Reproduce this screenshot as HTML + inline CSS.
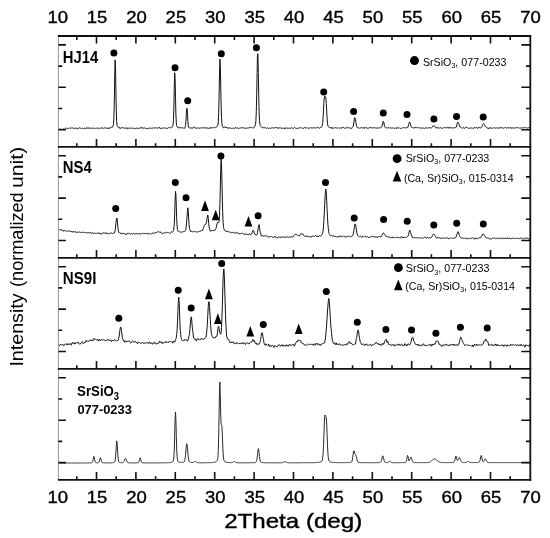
<!DOCTYPE html>
<html><head><meta charset="utf-8"><title>XRD</title>
<style>html,body{margin:0;padding:0;background:#fff}svg{display:block}</style></head>
<body>
<svg width="550" height="538" viewBox="0 0 550 538">
<rect width="550" height="538" fill="#fff"/>
<path d="M58.7 129.6 L59.1 129.5 L59.5 129.0 L59.9 128.9 L60.3 129.2 L60.7 128.9 L61.1 129.1 L61.5 129.5 L61.9 129.1 L62.3 129.2 L62.7 129.5 L63.1 129.1 L63.5 128.7 L63.9 129.0 L64.3 129.4 L64.7 129.1 L65.1 128.5 L65.5 128.3 L65.9 128.1 L66.3 128.3 L66.7 128.1 L67.1 128.2 L67.5 128.7 L67.9 128.5 L68.3 128.5 L68.7 128.2 L69.1 128.0 L69.5 128.0 L69.9 127.9 L70.3 128.2 L70.7 128.2 L71.1 127.9 L71.5 127.9 L71.9 127.8 L72.3 127.8 L72.7 128.0 L73.1 127.9 L73.5 128.0 L73.9 128.6 L74.3 128.7 L74.7 128.3 L75.1 127.9 L75.5 127.8 L75.9 128.4 L76.3 128.6 L76.7 128.1 L77.1 128.1 L77.5 128.7 L77.9 128.7 L78.3 128.3 L78.7 128.4 L79.1 128.2 L79.5 127.8 L79.9 127.8 L80.3 128.1 L80.7 128.3 L81.1 128.5 L81.5 128.6 L81.9 128.5 L82.3 128.4 L82.7 128.2 L83.1 128.3 L83.5 128.6 L83.9 128.2 L84.3 128.2 L84.7 128.3 L85.1 128.4 L85.5 128.8 L85.9 129.0 L86.3 128.3 L86.7 127.5 L87.1 127.7 L87.5 128.1 L87.9 128.4 L88.3 128.4 L88.7 127.8 L89.1 127.6 L89.5 128.3 L89.9 128.4 L90.3 128.4 L90.7 128.3 L91.1 128.1 L91.5 128.2 L91.9 128.3 L92.3 128.3 L92.7 128.2 L93.1 128.0 L93.5 128.1 L93.9 128.3 L94.3 128.4 L94.7 128.7 L95.1 128.5 L95.5 128.1 L95.9 127.9 L96.3 128.1 L96.7 128.3 L97.1 128.1 L97.5 128.1 L97.9 128.0 L98.3 128.2 L98.7 128.2 L99.1 128.3 L99.5 128.5 L99.9 128.4 L100.3 128.0 L100.7 127.9 L101.1 128.3 L101.5 128.1 L101.9 127.8 L102.3 128.1 L102.7 127.8 L103.1 127.9 L103.5 128.4 L103.9 128.1 L104.3 128.0 L104.7 127.9 L105.1 127.8 L105.5 127.7 L105.9 127.9 L106.3 128.4 L106.7 128.1 L107.1 127.8 L107.5 128.1 L107.9 128.7 L108.3 128.0 L108.7 127.8 L109.1 128.6 L109.5 128.3 L109.9 127.6 L110.3 127.7 L110.7 127.9 L111.1 127.4 L111.5 127.1 L111.9 127.2 L112.3 127.4 L112.7 126.8 L113.1 126.0 L113.5 123.7 L113.9 117.3 L114.3 102.1 L114.7 78.0 L115.1 59.9 L115.5 67.0 L115.9 90.9 L116.3 111.3 L116.7 121.6 L117.1 125.3 L117.5 126.6 L117.9 127.1 L118.3 127.4 L118.7 127.5 L119.1 126.9 L119.5 127.3 L119.9 128.5 L120.3 128.4 L120.7 127.9 L121.1 127.8 L121.5 127.9 L121.9 127.9 L122.3 127.7 L122.7 127.6 L123.1 127.7 L123.5 127.8 L123.9 128.0 L124.3 128.1 L124.7 128.1 L125.1 128.2 L125.5 128.3 L125.9 128.6 L126.3 128.1 L126.7 127.5 L127.1 128.1 L127.5 128.9 L127.9 128.6 L128.3 128.0 L128.7 128.1 L129.1 128.4 L129.5 128.3 L129.9 128.2 L130.3 128.2 L130.7 127.8 L131.1 127.9 L131.5 128.3 L131.9 128.5 L132.3 128.4 L132.7 128.0 L133.1 128.1 L133.5 128.3 L133.9 128.2 L134.3 128.2 L134.7 128.4 L135.1 128.5 L135.5 128.6 L135.9 128.8 L136.3 128.5 L136.7 127.9 L137.1 127.9 L137.5 128.4 L137.9 128.4 L138.3 128.5 L138.7 128.3 L139.1 128.2 L139.5 128.2 L139.9 128.4 L140.3 128.3 L140.7 127.4 L141.1 127.4 L141.5 127.6 L141.9 127.7 L142.3 128.3 L142.7 128.5 L143.1 127.7 L143.5 128.1 L143.9 128.2 L144.3 127.7 L144.7 128.0 L145.1 128.5 L145.5 128.2 L145.9 128.3 L146.3 128.5 L146.7 128.5 L147.1 128.6 L147.5 128.6 L147.9 128.5 L148.3 127.9 L148.7 128.4 L149.1 128.5 L149.5 128.0 L149.9 127.9 L150.3 127.9 L150.7 128.1 L151.1 128.2 L151.5 128.3 L151.9 128.7 L152.3 128.5 L152.7 127.8 L153.1 127.6 L153.5 127.7 L153.9 127.6 L154.3 127.9 L154.7 128.2 L155.1 127.9 L155.5 128.0 L155.9 127.8 L156.3 127.6 L156.7 128.1 L157.1 128.4 L157.5 128.1 L157.9 128.4 L158.3 128.2 L158.7 127.7 L159.1 128.0 L159.5 127.4 L159.9 127.9 L160.3 128.6 L160.7 127.9 L161.1 128.3 L161.5 128.7 L161.9 128.3 L162.3 128.0 L162.7 128.0 L163.1 127.7 L163.5 127.9 L163.9 128.1 L164.3 128.0 L164.7 128.3 L165.1 128.4 L165.5 128.2 L165.9 128.1 L166.3 127.9 L166.7 128.0 L167.1 128.5 L167.5 128.5 L167.9 128.3 L168.3 127.9 L168.7 127.5 L169.1 127.4 L169.5 127.8 L169.9 128.0 L170.3 128.0 L170.7 127.8 L171.1 127.3 L171.5 127.3 L171.9 127.5 L172.3 127.1 L172.7 126.4 L173.1 124.7 L173.5 119.4 L173.9 106.6 L174.3 87.2 L174.7 72.7 L175.1 78.3 L175.5 97.7 L175.9 114.1 L176.3 122.5 L176.7 125.6 L177.1 126.7 L177.5 127.3 L177.9 127.3 L178.3 127.4 L178.7 128.2 L179.1 127.8 L179.5 127.2 L179.9 127.4 L180.3 127.5 L180.7 128.1 L181.1 128.2 L181.5 127.7 L181.9 127.8 L182.3 127.8 L182.7 127.9 L183.1 128.1 L183.5 128.1 L183.9 127.9 L184.3 128.2 L184.7 128.3 L185.1 127.3 L185.5 125.7 L185.9 121.5 L186.3 114.7 L186.7 108.4 L187.1 108.4 L187.5 114.9 L187.9 121.6 L188.3 125.5 L188.7 127.4 L189.1 127.5 L189.5 127.8 L189.9 128.0 L190.3 128.0 L190.7 128.2 L191.1 128.3 L191.5 128.0 L191.9 127.7 L192.3 128.3 L192.7 128.2 L193.1 127.4 L193.5 127.1 L193.9 127.0 L194.3 127.0 L194.7 127.5 L195.1 128.2 L195.5 128.2 L195.9 128.0 L196.3 128.1 L196.7 128.0 L197.1 128.0 L197.5 128.0 L197.9 128.1 L198.3 127.9 L198.7 128.0 L199.1 128.5 L199.5 128.2 L199.9 128.2 L200.3 128.1 L200.7 127.8 L201.1 128.0 L201.5 128.0 L201.9 127.9 L202.3 127.8 L202.7 127.8 L203.1 128.1 L203.5 127.8 L203.9 127.7 L204.3 128.1 L204.7 128.1 L205.1 128.3 L205.5 127.5 L205.9 127.5 L206.3 128.2 L206.7 128.1 L207.1 127.9 L207.5 128.1 L207.9 128.1 L208.3 128.3 L208.7 128.5 L209.1 128.6 L209.5 128.3 L209.9 127.4 L210.3 127.7 L210.7 128.3 L211.1 128.1 L211.5 127.6 L211.9 127.4 L212.3 127.9 L212.7 127.9 L213.1 127.8 L213.5 127.7 L213.9 127.5 L214.3 127.4 L214.7 127.2 L215.1 127.6 L215.5 127.8 L215.9 127.4 L216.3 127.1 L216.7 126.9 L217.1 126.4 L217.5 125.9 L217.9 125.1 L218.3 121.8 L218.7 112.6 L219.1 95.4 L219.5 73.8 L219.9 59.1 L220.3 64.5 L220.7 84.7 L221.1 104.6 L221.5 117.1 L221.9 123.4 L222.3 126.0 L222.7 126.6 L223.1 127.2 L223.5 128.0 L223.9 127.7 L224.3 126.9 L224.7 126.6 L225.1 127.0 L225.5 127.7 L225.9 128.0 L226.3 127.4 L226.7 127.3 L227.1 128.1 L227.5 128.1 L227.9 127.6 L228.3 128.2 L228.7 128.4 L229.1 127.8 L229.5 127.9 L229.9 128.0 L230.3 127.9 L230.7 128.1 L231.1 128.5 L231.5 128.4 L231.9 128.1 L232.3 128.2 L232.7 128.2 L233.1 128.1 L233.5 128.3 L233.9 128.4 L234.3 128.6 L234.7 128.5 L235.1 127.7 L235.5 127.4 L235.9 128.0 L236.3 128.2 L236.7 128.0 L237.1 127.9 L237.5 128.0 L237.9 128.1 L238.3 128.2 L238.7 128.2 L239.1 128.1 L239.5 128.4 L239.9 128.0 L240.3 128.1 L240.7 128.0 L241.1 127.6 L241.5 128.0 L241.9 128.0 L242.3 127.7 L242.7 127.8 L243.1 127.7 L243.5 128.0 L243.9 128.3 L244.3 128.1 L244.7 127.9 L245.1 128.0 L245.5 128.5 L245.9 128.5 L246.3 128.0 L246.7 128.0 L247.1 128.1 L247.5 127.8 L247.9 128.3 L248.3 128.2 L248.7 127.7 L249.1 127.3 L249.5 127.1 L249.9 127.6 L250.3 127.7 L250.7 127.7 L251.1 127.6 L251.5 127.2 L251.9 127.6 L252.3 128.0 L252.7 127.9 L253.1 127.8 L253.5 127.9 L253.9 127.7 L254.3 126.8 L254.7 126.2 L255.1 126.0 L255.5 124.5 L255.9 120.7 L256.3 111.5 L256.7 94.6 L257.1 72.6 L257.5 54.0 L257.9 53.7 L258.3 72.4 L258.7 94.7 L259.1 111.4 L259.5 120.5 L259.9 124.2 L260.3 125.7 L260.7 126.4 L261.1 126.7 L261.5 126.9 L261.9 127.1 L262.3 127.3 L262.7 128.0 L263.1 128.0 L263.5 127.7 L263.9 127.4 L264.3 127.6 L264.7 127.7 L265.1 127.4 L265.5 127.8 L265.9 128.0 L266.3 128.1 L266.7 128.4 L267.1 128.1 L267.5 127.8 L267.9 128.3 L268.3 128.5 L268.7 128.3 L269.1 128.4 L269.5 128.1 L269.9 128.0 L270.3 128.4 L270.7 128.6 L271.1 128.2 L271.5 127.7 L271.9 128.0 L272.3 128.0 L272.7 127.8 L273.1 128.1 L273.5 128.1 L273.9 127.5 L274.3 127.7 L274.7 128.0 L275.1 127.7 L275.5 127.5 L275.9 127.9 L276.3 127.7 L276.7 127.1 L277.1 127.6 L277.5 128.2 L277.9 128.6 L278.3 128.0 L278.7 127.7 L279.1 127.6 L279.5 127.9 L279.9 127.9 L280.3 127.7 L280.7 128.2 L281.1 128.2 L281.5 128.3 L281.9 128.2 L282.3 127.9 L282.7 128.3 L283.1 128.2 L283.5 128.3 L283.9 128.5 L284.3 127.8 L284.7 128.5 L285.1 129.1 L285.5 128.2 L285.9 127.7 L286.3 127.7 L286.7 127.9 L287.1 128.1 L287.5 128.3 L287.9 128.5 L288.3 128.5 L288.7 128.2 L289.1 128.2 L289.5 128.1 L289.9 128.0 L290.3 128.2 L290.7 128.4 L291.1 128.1 L291.5 127.6 L291.9 127.8 L292.3 128.3 L292.7 128.3 L293.1 128.4 L293.5 128.2 L293.9 127.9 L294.3 127.5 L294.7 127.3 L295.1 127.8 L295.5 128.1 L295.9 128.5 L296.3 128.4 L296.7 128.4 L297.1 128.5 L297.5 128.4 L297.9 128.1 L298.3 128.2 L298.7 128.1 L299.1 127.9 L299.5 127.9 L299.9 127.7 L300.3 127.6 L300.7 127.6 L301.1 128.0 L301.5 128.1 L301.9 127.7 L302.3 128.0 L302.7 128.4 L303.1 128.3 L303.5 128.4 L303.9 128.0 L304.3 127.4 L304.7 127.4 L305.1 128.1 L305.5 128.0 L305.9 127.9 L306.3 128.0 L306.7 127.9 L307.1 127.7 L307.5 127.8 L307.9 128.2 L308.3 128.2 L308.7 128.2 L309.1 128.2 L309.5 128.1 L309.9 128.1 L310.3 127.8 L310.7 127.4 L311.1 127.9 L311.5 128.1 L311.9 127.9 L312.3 127.9 L312.7 128.0 L313.1 127.9 L313.5 127.9 L313.9 127.8 L314.3 127.6 L314.7 128.0 L315.1 128.4 L315.5 127.9 L315.9 127.8 L316.3 127.8 L316.7 127.8 L317.1 127.6 L317.5 127.1 L317.9 127.4 L318.3 127.6 L318.7 128.0 L319.1 128.2 L319.5 128.2 L319.9 128.2 L320.3 127.7 L320.7 127.3 L321.1 127.4 L321.5 127.3 L321.9 126.5 L322.3 125.1 L322.7 122.7 L323.1 117.5 L323.5 110.1 L323.9 102.4 L324.3 97.1 L324.7 96.0 L325.1 96.3 L325.5 96.8 L325.9 98.0 L326.3 103.4 L326.7 111.1 L327.1 118.1 L327.5 123.2 L327.9 125.8 L328.3 126.6 L328.7 126.9 L329.1 127.4 L329.5 127.5 L329.9 127.5 L330.3 127.7 L330.7 127.8 L331.1 127.6 L331.5 127.2 L331.9 128.1 L332.3 128.8 L332.7 127.9 L333.1 127.6 L333.5 128.1 L333.9 128.2 L334.3 128.1 L334.7 127.7 L335.1 127.6 L335.5 127.8 L335.9 127.8 L336.3 127.9 L336.7 127.8 L337.1 128.1 L337.5 128.4 L337.9 127.9 L338.3 127.6 L338.7 127.7 L339.1 128.0 L339.5 128.2 L339.9 128.3 L340.3 128.2 L340.7 127.9 L341.1 127.7 L341.5 127.9 L341.9 128.2 L342.3 127.5 L342.7 127.5 L343.1 127.3 L343.5 127.4 L343.9 128.0 L344.3 128.1 L344.7 128.4 L345.1 128.2 L345.5 128.1 L345.9 128.2 L346.3 128.0 L346.7 127.4 L347.1 127.7 L347.5 128.0 L347.9 127.8 L348.3 127.7 L348.7 127.7 L349.1 128.0 L349.5 127.9 L349.9 127.9 L350.3 128.1 L350.7 128.3 L351.1 128.2 L351.5 128.7 L351.9 128.3 L352.3 127.4 L352.7 127.0 L353.1 126.4 L353.5 125.1 L353.9 122.0 L354.3 119.1 L354.7 117.6 L355.1 118.1 L355.5 119.9 L355.9 122.3 L356.3 124.9 L356.7 126.4 L357.1 127.2 L357.5 127.7 L357.9 127.8 L358.3 127.7 L358.7 128.0 L359.1 128.2 L359.5 128.2 L359.9 128.1 L360.3 127.9 L360.7 127.9 L361.1 127.6 L361.5 127.6 L361.9 127.8 L362.3 127.9 L362.7 128.2 L363.1 128.0 L363.5 127.5 L363.9 128.1 L364.3 128.5 L364.7 127.7 L365.1 127.7 L365.5 128.1 L365.9 127.5 L366.3 127.4 L366.7 127.9 L367.1 128.1 L367.5 128.4 L367.9 128.2 L368.3 128.2 L368.7 128.2 L369.1 127.7 L369.5 127.6 L369.9 127.9 L370.3 127.7 L370.7 127.7 L371.1 127.9 L371.5 127.6 L371.9 128.0 L372.3 128.4 L372.7 127.8 L373.1 127.4 L373.5 127.8 L373.9 127.8 L374.3 128.0 L374.7 127.7 L375.1 127.6 L375.5 128.1 L375.9 128.1 L376.3 128.2 L376.7 127.9 L377.1 127.9 L377.5 128.0 L377.9 127.9 L378.3 128.0 L378.7 128.0 L379.1 128.3 L379.5 127.7 L379.9 127.5 L380.3 127.8 L380.7 127.7 L381.1 127.3 L381.5 127.3 L381.9 126.6 L382.3 125.1 L382.7 123.2 L383.1 121.3 L383.5 121.5 L383.9 122.9 L384.3 125.1 L384.7 126.8 L385.1 127.4 L385.5 127.7 L385.9 127.6 L386.3 127.7 L386.7 127.9 L387.1 128.1 L387.5 128.1 L387.9 127.7 L388.3 127.5 L388.7 127.7 L389.1 128.0 L389.5 128.2 L389.9 128.0 L390.3 127.8 L390.7 127.8 L391.1 128.1 L391.5 128.1 L391.9 128.0 L392.3 127.9 L392.7 128.1 L393.1 128.1 L393.5 127.9 L393.9 128.1 L394.3 128.2 L394.7 128.5 L395.1 128.4 L395.5 128.2 L395.9 127.8 L396.3 127.8 L396.7 128.6 L397.1 128.3 L397.5 127.5 L397.9 127.7 L398.3 128.1 L398.7 128.3 L399.1 128.0 L399.5 127.8 L399.9 128.2 L400.3 128.3 L400.7 128.6 L401.1 128.7 L401.5 128.3 L401.9 128.2 L402.3 128.0 L402.7 127.6 L403.1 127.7 L403.5 128.1 L403.9 127.7 L404.3 127.5 L404.7 127.7 L405.1 127.9 L405.5 127.9 L405.9 127.9 L406.3 127.9 L406.7 128.0 L407.1 127.5 L407.5 127.3 L407.9 127.4 L408.3 126.0 L408.7 124.4 L409.1 123.1 L409.5 122.0 L409.9 122.2 L410.3 123.7 L410.7 125.2 L411.1 126.5 L411.5 127.3 L411.9 127.5 L412.3 127.5 L412.7 127.5 L413.1 127.6 L413.5 128.1 L413.9 128.3 L414.3 127.7 L414.7 127.8 L415.1 128.0 L415.5 127.2 L415.9 127.3 L416.3 127.7 L416.7 127.7 L417.1 127.8 L417.5 127.4 L417.9 127.7 L418.3 127.7 L418.7 127.5 L419.1 127.9 L419.5 128.1 L419.9 128.2 L420.3 128.1 L420.7 127.7 L421.1 128.2 L421.5 128.2 L421.9 128.2 L422.3 128.2 L422.7 128.1 L423.1 128.4 L423.5 128.0 L423.9 127.8 L424.3 128.2 L424.7 128.3 L425.1 128.1 L425.5 128.0 L425.9 127.9 L426.3 127.6 L426.7 127.9 L427.1 128.0 L427.5 128.1 L427.9 128.4 L428.3 127.9 L428.7 127.7 L429.1 127.8 L429.5 127.6 L429.9 127.8 L430.3 127.9 L430.7 128.1 L431.1 128.4 L431.5 127.7 L431.9 127.3 L432.3 127.1 L432.7 126.2 L433.1 125.9 L433.5 125.9 L433.9 125.7 L434.3 125.6 L434.7 126.2 L435.1 126.8 L435.5 127.3 L435.9 128.1 L436.3 128.1 L436.7 127.5 L437.1 127.5 L437.5 128.0 L437.9 128.3 L438.3 127.9 L438.7 127.6 L439.1 127.9 L439.5 128.1 L439.9 128.2 L440.3 127.9 L440.7 127.6 L441.1 128.1 L441.5 128.2 L441.9 128.1 L442.3 128.3 L442.7 128.2 L443.1 128.1 L443.5 128.0 L443.9 127.6 L444.3 127.3 L444.7 127.7 L445.1 127.9 L445.5 127.7 L445.9 127.9 L446.3 127.8 L446.7 127.8 L447.1 127.9 L447.5 127.7 L447.9 127.2 L448.3 127.7 L448.7 128.3 L449.1 127.4 L449.5 127.2 L449.9 127.9 L450.3 128.0 L450.7 128.0 L451.1 127.8 L451.5 127.7 L451.9 127.9 L452.3 127.8 L452.7 127.8 L453.1 127.9 L453.5 128.1 L453.9 127.9 L454.3 127.6 L454.7 127.7 L455.1 127.7 L455.5 127.6 L455.9 127.5 L456.3 127.1 L456.7 125.9 L457.1 123.7 L457.5 122.3 L457.9 122.1 L458.3 122.4 L458.7 123.4 L459.1 124.4 L459.5 125.8 L459.9 127.0 L460.3 127.0 L460.7 127.1 L461.1 127.4 L461.5 127.7 L461.9 128.1 L462.3 128.3 L462.7 128.3 L463.1 127.7 L463.5 127.3 L463.9 127.8 L464.3 128.5 L464.7 128.2 L465.1 128.0 L465.5 127.7 L465.9 127.1 L466.3 127.2 L466.7 127.6 L467.1 127.7 L467.5 127.7 L467.9 127.7 L468.3 128.0 L468.7 128.4 L469.1 128.2 L469.5 128.4 L469.9 128.2 L470.3 127.7 L470.7 127.9 L471.1 127.9 L471.5 128.1 L471.9 128.0 L472.3 128.1 L472.7 128.3 L473.1 128.5 L473.5 128.4 L473.9 127.8 L474.3 127.9 L474.7 127.4 L475.1 127.5 L475.5 128.1 L475.9 128.0 L476.3 127.6 L476.7 127.2 L477.1 127.7 L477.5 128.3 L477.9 128.5 L478.3 128.0 L478.7 127.4 L479.1 127.5 L479.5 127.3 L479.9 127.2 L480.3 127.8 L480.7 128.2 L481.1 127.8 L481.5 127.4 L481.9 126.8 L482.3 125.6 L482.7 124.6 L483.1 123.8 L483.5 123.5 L483.9 123.7 L484.3 124.4 L484.7 125.4 L485.1 126.4 L485.5 126.6 L485.9 127.0 L486.3 127.3 L486.7 127.1 L487.1 127.4 L487.5 128.3 L487.9 128.7 L488.3 128.7 L488.7 128.0 L489.1 127.9 L489.5 128.4 L489.9 127.7 L490.3 127.6 L490.7 128.2 L491.1 128.1 L491.5 128.0 L491.9 128.0 L492.3 128.3 L492.7 128.2 L493.1 127.8 L493.5 127.9 L493.9 128.0 L494.3 127.6 L494.7 127.8 L495.1 128.3 L495.5 128.1 L495.9 128.1 L496.3 127.9 L496.7 127.8 L497.1 127.9 L497.5 128.0 L497.9 128.2 L498.3 128.2 L498.7 128.0 L499.1 128.3 L499.5 128.1 L499.9 127.3 L500.3 127.7 L500.7 127.9 L501.1 127.5 L501.5 127.4 L501.9 127.7 L502.3 128.0 L502.7 128.0 L503.1 128.0 L503.5 128.2 L503.9 128.0 L504.3 127.9 L504.7 128.0 L505.1 127.5 L505.5 127.5 L505.9 127.9 L506.3 128.2 L506.7 128.2 L507.1 128.0 L507.5 127.6 L507.9 127.5 L508.3 128.2 L508.7 127.9 L509.1 127.8 L509.5 127.8 L509.9 127.9 L510.3 128.0 L510.7 127.5 L511.1 127.5 L511.5 128.4 L511.9 128.4 L512.3 128.0 L512.7 127.9 L513.1 127.8 L513.5 128.0 L513.9 127.9 L514.3 128.0 L514.7 127.9 L515.1 127.7 L515.5 128.0 L515.9 128.0 L516.3 127.6 L516.7 127.8 L517.1 127.8 L517.5 127.6 L517.9 127.6 L518.3 127.7 L518.7 127.8 L519.1 127.7 L519.5 128.0 L519.9 128.5 L520.3 128.2 L520.7 127.9 L521.1 127.9 L521.5 127.8 L521.9 128.2 L522.3 128.2 L522.7 127.7 L523.1 127.6 L523.5 127.6 L523.9 127.8 L524.3 128.1 L524.7 127.8 L525.1 127.4 L525.5 127.5 L525.9 127.3 L526.3 127.8 L526.7 128.2 L527.1 128.3 L527.5 128.0 L527.9 127.9 L528.3 128.0 L528.7 127.6 L529.1 127.6 L529.5 127.5 L529.9 127.4" fill="none" stroke="#111" stroke-width="1" stroke-linejoin="round"/>
<path d="M58.7 229.8 L59.1 229.8 L59.5 229.5 L59.9 229.9 L60.3 230.1 L60.7 229.5 L61.1 230.2 L61.5 230.1 L61.9 229.8 L62.3 229.9 L62.7 230.4 L63.1 231.2 L63.5 231.2 L63.9 230.4 L64.3 230.5 L64.7 230.7 L65.1 230.6 L65.5 231.1 L65.9 231.0 L66.3 230.8 L66.7 230.8 L67.1 230.8 L67.5 231.2 L67.9 231.0 L68.3 230.9 L68.7 231.2 L69.1 231.1 L69.5 231.0 L69.9 230.8 L70.3 231.1 L70.7 231.4 L71.1 232.1 L71.5 231.6 L71.9 231.1 L72.3 231.8 L72.7 232.1 L73.1 232.2 L73.5 231.7 L73.9 231.6 L74.3 232.0 L74.7 231.9 L75.1 232.0 L75.5 231.6 L75.9 231.9 L76.3 232.8 L76.7 232.3 L77.1 232.1 L77.5 232.2 L77.9 231.9 L78.3 231.9 L78.7 232.4 L79.1 232.3 L79.5 232.0 L79.9 232.1 L80.3 232.4 L80.7 232.7 L81.1 232.5 L81.5 232.3 L81.9 232.6 L82.3 232.0 L82.7 231.9 L83.1 232.3 L83.5 232.5 L83.9 232.6 L84.3 232.1 L84.7 232.1 L85.1 232.5 L85.5 232.1 L85.9 232.5 L86.3 233.0 L86.7 232.8 L87.1 232.8 L87.5 232.9 L87.9 232.8 L88.3 232.6 L88.7 233.0 L89.1 232.7 L89.5 232.3 L89.9 233.1 L90.3 232.7 L90.7 232.5 L91.1 233.0 L91.5 233.2 L91.9 233.6 L92.3 233.3 L92.7 232.6 L93.1 233.1 L93.5 233.7 L93.9 233.3 L94.3 233.1 L94.7 233.3 L95.1 233.4 L95.5 233.3 L95.9 233.5 L96.3 233.1 L96.7 233.0 L97.1 233.5 L97.5 233.2 L97.9 233.4 L98.3 232.9 L98.7 232.9 L99.1 233.6 L99.5 233.0 L99.9 233.1 L100.3 233.3 L100.7 233.8 L101.1 234.4 L101.5 233.8 L101.9 233.2 L102.3 233.0 L102.7 233.1 L103.1 233.1 L103.5 232.9 L103.9 232.9 L104.3 233.1 L104.7 233.1 L105.1 233.0 L105.5 232.9 L105.9 233.8 L106.3 233.6 L106.7 232.8 L107.1 233.2 L107.5 233.4 L107.9 233.4 L108.3 233.7 L108.7 233.9 L109.1 233.9 L109.5 233.4 L109.9 233.4 L110.3 233.2 L110.7 232.9 L111.1 233.2 L111.5 233.0 L111.9 233.2 L112.3 233.4 L112.7 233.5 L113.1 233.1 L113.5 233.0 L113.9 233.4 L114.3 233.1 L114.7 232.1 L115.1 230.8 L115.5 228.2 L115.9 223.7 L116.3 220.2 L116.7 218.0 L117.1 218.7 L117.5 222.6 L117.9 226.9 L118.3 230.5 L118.7 232.3 L119.1 232.9 L119.5 233.0 L119.9 232.6 L120.3 232.9 L120.7 233.6 L121.1 233.8 L121.5 233.7 L121.9 233.8 L122.3 233.8 L122.7 233.1 L123.1 233.4 L123.5 233.7 L123.9 233.1 L124.3 233.3 L124.7 233.8 L125.1 233.8 L125.5 233.8 L125.9 234.8 L126.3 234.8 L126.7 234.2 L127.1 233.5 L127.5 233.2 L127.9 233.9 L128.3 233.7 L128.7 233.3 L129.1 233.5 L129.5 233.7 L129.9 233.4 L130.3 233.8 L130.7 234.3 L131.1 234.1 L131.5 233.6 L131.9 233.7 L132.3 234.0 L132.7 234.1 L133.1 233.5 L133.5 233.3 L133.9 233.7 L134.3 234.0 L134.7 234.1 L135.1 234.2 L135.5 233.6 L135.9 233.3 L136.3 233.3 L136.7 233.9 L137.1 234.2 L137.5 233.9 L137.9 234.1 L138.3 233.9 L138.7 233.4 L139.1 233.4 L139.5 233.6 L139.9 234.1 L140.3 234.4 L140.7 233.7 L141.1 233.7 L141.5 234.1 L141.9 233.7 L142.3 233.4 L142.7 233.2 L143.1 233.3 L143.5 233.7 L143.9 233.3 L144.3 233.2 L144.7 233.6 L145.1 233.6 L145.5 233.6 L145.9 233.9 L146.3 233.6 L146.7 233.4 L147.1 234.1 L147.5 234.2 L147.9 233.5 L148.3 233.4 L148.7 233.3 L149.1 233.6 L149.5 234.0 L149.9 234.0 L150.3 234.1 L150.7 233.9 L151.1 233.9 L151.5 233.9 L151.9 233.4 L152.3 233.1 L152.7 233.2 L153.1 232.8 L153.5 233.3 L153.9 233.5 L154.3 233.0 L154.7 233.0 L155.1 232.4 L155.5 232.6 L155.9 232.8 L156.3 232.6 L156.7 232.6 L157.1 232.2 L157.5 231.9 L157.9 232.1 L158.3 231.8 L158.7 231.6 L159.1 232.0 L159.5 232.2 L159.9 232.3 L160.3 232.0 L160.7 232.1 L161.1 233.0 L161.5 233.1 L161.9 233.1 L162.3 233.7 L162.7 233.7 L163.1 233.4 L163.5 233.1 L163.9 232.8 L164.3 232.8 L164.7 232.8 L165.1 232.9 L165.5 232.9 L165.9 232.8 L166.3 232.6 L166.7 232.2 L167.1 232.4 L167.5 232.5 L167.9 232.5 L168.3 232.6 L168.7 232.6 L169.1 233.0 L169.5 233.4 L169.9 233.3 L170.3 232.8 L170.7 232.9 L171.1 232.5 L171.5 231.6 L171.9 231.9 L172.3 232.2 L172.7 231.9 L173.1 231.6 L173.5 230.4 L173.9 228.0 L174.3 223.4 L174.7 213.8 L175.1 200.2 L175.5 191.4 L175.9 194.6 L176.3 206.2 L176.7 218.7 L177.1 226.1 L177.5 229.4 L177.9 230.9 L178.3 231.4 L178.7 231.8 L179.1 232.2 L179.5 231.8 L179.9 231.5 L180.3 231.9 L180.7 232.1 L181.1 231.8 L181.5 231.9 L181.9 232.3 L182.3 232.0 L182.7 232.0 L183.1 231.7 L183.5 231.1 L183.9 231.5 L184.3 231.6 L184.7 231.1 L185.1 231.0 L185.5 230.5 L185.9 229.2 L186.3 226.2 L186.7 221.1 L187.1 216.0 L187.5 210.5 L187.9 207.8 L188.3 211.8 L188.7 218.7 L189.1 224.7 L189.5 228.4 L189.9 229.8 L190.3 231.0 L190.7 231.7 L191.1 231.1 L191.5 231.2 L191.9 231.6 L192.3 231.7 L192.7 231.7 L193.1 231.6 L193.5 231.8 L193.9 231.7 L194.3 231.7 L194.7 231.4 L195.1 231.4 L195.5 231.7 L195.9 231.8 L196.3 232.0 L196.7 232.0 L197.1 231.7 L197.5 232.1 L197.9 231.9 L198.3 231.5 L198.7 231.3 L199.1 231.2 L199.5 231.7 L199.9 231.7 L200.3 231.6 L200.7 231.2 L201.1 230.4 L201.5 230.5 L201.9 230.3 L202.3 230.5 L202.7 230.6 L203.1 228.8 L203.5 227.5 L203.9 226.5 L204.3 225.6 L204.7 224.8 L205.1 224.3 L205.5 224.4 L205.9 224.0 L206.3 222.8 L206.7 221.2 L207.1 218.4 L207.5 215.4 L207.9 215.1 L208.3 218.4 L208.7 223.3 L209.1 226.8 L209.5 228.8 L209.9 230.0 L210.3 231.1 L210.7 231.3 L211.1 230.7 L211.5 230.6 L211.9 230.7 L212.3 230.2 L212.7 230.2 L213.1 230.9 L213.5 230.7 L213.9 229.9 L214.3 230.0 L214.7 230.4 L215.1 230.1 L215.5 229.2 L215.9 228.5 L216.3 227.3 L216.7 225.3 L217.1 223.5 L217.5 222.6 L217.9 222.5 L218.3 223.0 L218.7 222.8 L219.1 221.2 L219.5 215.9 L219.9 204.3 L220.3 187.9 L220.7 169.8 L221.1 158.9 L221.5 163.3 L221.9 179.3 L222.3 197.8 L222.7 212.8 L223.1 222.1 L223.5 226.7 L223.9 228.8 L224.3 230.0 L224.7 230.6 L225.1 230.8 L225.5 231.0 L225.9 230.8 L226.3 231.0 L226.7 231.7 L227.1 231.6 L227.5 231.1 L227.9 231.3 L228.3 232.0 L228.7 231.9 L229.1 231.6 L229.5 232.0 L229.9 232.1 L230.3 232.2 L230.7 232.7 L231.1 232.7 L231.5 232.4 L231.9 232.7 L232.3 232.7 L232.7 232.3 L233.1 232.1 L233.5 232.1 L233.9 232.9 L234.3 233.2 L234.7 233.0 L235.1 233.2 L235.5 232.9 L235.9 232.9 L236.3 233.1 L236.7 232.4 L237.1 232.6 L237.5 232.9 L237.9 232.9 L238.3 233.3 L238.7 234.0 L239.1 233.9 L239.5 233.3 L239.9 233.6 L240.3 233.7 L240.7 233.6 L241.1 233.4 L241.5 233.2 L241.9 233.5 L242.3 233.5 L242.7 233.4 L243.1 233.5 L243.5 233.9 L243.9 233.9 L244.3 234.2 L244.7 234.5 L245.1 233.8 L245.5 233.7 L245.9 234.2 L246.3 234.8 L246.7 234.4 L247.1 234.3 L247.5 234.5 L247.9 234.4 L248.3 234.5 L248.7 234.8 L249.1 234.3 L249.5 233.6 L249.9 234.2 L250.3 234.7 L250.7 234.8 L251.1 234.3 L251.5 233.5 L251.9 233.6 L252.3 232.4 L252.7 230.9 L253.1 230.3 L253.5 230.4 L253.9 231.4 L254.3 233.1 L254.7 234.0 L255.1 234.0 L255.5 234.5 L255.9 235.2 L256.3 235.4 L256.7 235.0 L257.1 234.2 L257.5 232.6 L257.9 230.2 L258.3 227.6 L258.7 225.3 L259.1 224.6 L259.5 227.1 L259.9 230.6 L260.3 232.6 L260.7 234.1 L261.1 234.9 L261.5 235.9 L261.9 236.2 L262.3 235.3 L262.7 235.6 L263.1 235.9 L263.5 236.2 L263.9 236.5 L264.3 235.8 L264.7 235.7 L265.1 235.9 L265.5 235.9 L265.9 236.1 L266.3 235.8 L266.7 236.0 L267.1 236.4 L267.5 236.1 L267.9 236.6 L268.3 237.3 L268.7 237.0 L269.1 237.0 L269.5 236.7 L269.9 236.4 L270.3 236.8 L270.7 236.7 L271.1 236.6 L271.5 236.6 L271.9 236.8 L272.3 236.9 L272.7 237.1 L273.1 237.8 L273.5 237.6 L273.9 237.0 L274.3 236.7 L274.7 236.2 L275.1 237.0 L275.5 237.3 L275.9 236.8 L276.3 237.2 L276.7 237.7 L277.1 237.8 L277.5 238.0 L277.9 237.8 L278.3 236.9 L278.7 237.0 L279.1 237.4 L279.5 237.2 L279.9 237.1 L280.3 237.1 L280.7 237.6 L281.1 237.6 L281.5 236.8 L281.9 237.0 L282.3 236.9 L282.7 236.9 L283.1 237.4 L283.5 237.1 L283.9 236.8 L284.3 236.9 L284.7 237.4 L285.1 237.6 L285.5 236.9 L285.9 236.5 L286.3 236.8 L286.7 237.1 L287.1 236.9 L287.5 236.9 L287.9 237.0 L288.3 237.2 L288.7 237.4 L289.1 237.1 L289.5 237.0 L289.9 236.7 L290.3 236.9 L290.7 237.2 L291.1 236.8 L291.5 236.7 L291.9 236.6 L292.3 237.2 L292.7 237.0 L293.1 236.3 L293.5 236.2 L293.9 235.5 L294.3 234.9 L294.7 234.5 L295.1 234.2 L295.5 234.1 L295.9 234.2 L296.3 234.7 L296.7 234.8 L297.1 235.0 L297.5 235.3 L297.9 235.5 L298.3 235.4 L298.7 235.8 L299.1 236.2 L299.5 235.9 L299.9 235.2 L300.3 234.5 L300.7 233.8 L301.1 233.7 L301.5 234.1 L301.9 234.0 L302.3 233.9 L302.7 233.8 L303.1 234.3 L303.5 235.1 L303.9 235.7 L304.3 236.2 L304.7 236.2 L305.1 236.2 L305.5 236.5 L305.9 236.7 L306.3 236.5 L306.7 235.8 L307.1 235.7 L307.5 236.5 L307.9 236.7 L308.3 236.7 L308.7 236.6 L309.1 236.4 L309.5 236.7 L309.9 236.8 L310.3 236.7 L310.7 236.8 L311.1 237.0 L311.5 237.1 L311.9 236.4 L312.3 235.9 L312.7 236.2 L313.1 236.2 L313.5 235.9 L313.9 236.3 L314.3 236.5 L314.7 236.2 L315.1 235.8 L315.5 235.6 L315.9 236.1 L316.3 236.0 L316.7 236.2 L317.1 237.0 L317.5 236.6 L317.9 235.8 L318.3 236.4 L318.7 236.7 L319.1 236.1 L319.5 235.6 L319.9 235.8 L320.3 236.1 L320.7 236.1 L321.1 235.7 L321.5 235.0 L321.9 234.7 L322.3 233.9 L322.7 232.8 L323.1 230.6 L323.5 226.2 L323.9 220.3 L324.3 212.9 L324.7 204.7 L325.1 196.6 L325.5 190.5 L325.9 189.2 L326.3 193.1 L326.7 200.6 L327.1 209.4 L327.5 217.6 L327.9 224.0 L328.3 228.4 L328.7 231.6 L329.1 233.5 L329.5 234.3 L329.9 235.0 L330.3 235.6 L330.7 236.0 L331.1 235.8 L331.5 235.3 L331.9 235.8 L332.3 236.0 L332.7 236.2 L333.1 236.2 L333.5 235.9 L333.9 235.7 L334.3 236.4 L334.7 236.8 L335.1 236.3 L335.5 236.3 L335.9 236.3 L336.3 236.7 L336.7 236.8 L337.1 236.6 L337.5 236.9 L337.9 236.5 L338.3 236.5 L338.7 237.3 L339.1 236.7 L339.5 236.3 L339.9 236.4 L340.3 235.8 L340.7 235.9 L341.1 236.6 L341.5 237.0 L341.9 236.8 L342.3 236.4 L342.7 236.3 L343.1 236.4 L343.5 236.3 L343.9 235.9 L344.3 236.0 L344.7 236.6 L345.1 237.2 L345.5 237.4 L345.9 236.8 L346.3 236.7 L346.7 236.8 L347.1 236.6 L347.5 236.0 L347.9 236.0 L348.3 236.4 L348.7 236.6 L349.1 236.5 L349.5 236.2 L349.9 236.3 L350.3 236.5 L350.7 236.7 L351.1 236.6 L351.5 236.5 L351.9 236.2 L352.3 236.0 L352.7 235.7 L353.1 234.2 L353.5 232.5 L353.9 230.6 L354.3 227.6 L354.7 225.1 L355.1 223.9 L355.5 224.3 L355.9 226.3 L356.3 229.1 L356.7 232.1 L357.1 233.9 L357.5 235.0 L357.9 235.7 L358.3 236.2 L358.7 236.5 L359.1 236.7 L359.5 236.7 L359.9 236.3 L360.3 236.0 L360.7 236.3 L361.1 236.7 L361.5 237.4 L361.9 237.5 L362.3 236.8 L362.7 236.1 L363.1 236.4 L363.5 236.9 L363.9 236.5 L364.3 236.7 L364.7 237.1 L365.1 236.7 L365.5 236.3 L365.9 236.6 L366.3 237.1 L366.7 236.8 L367.1 236.6 L367.5 236.5 L367.9 237.1 L368.3 237.3 L368.7 237.5 L369.1 237.7 L369.5 237.2 L369.9 237.2 L370.3 237.2 L370.7 236.6 L371.1 236.4 L371.5 236.8 L371.9 236.8 L372.3 236.5 L372.7 236.5 L373.1 237.0 L373.5 237.0 L373.9 236.3 L374.3 236.4 L374.7 236.9 L375.1 237.4 L375.5 237.1 L375.9 236.9 L376.3 236.8 L376.7 236.7 L377.1 237.6 L377.5 237.8 L377.9 237.1 L378.3 236.6 L378.7 236.5 L379.1 236.5 L379.5 236.0 L379.9 236.4 L380.3 237.1 L380.7 236.9 L381.1 236.8 L381.5 236.0 L381.9 235.6 L382.3 234.9 L382.7 233.6 L383.1 233.1 L383.5 232.8 L383.9 233.4 L384.3 233.9 L384.7 234.4 L385.1 235.0 L385.5 235.8 L385.9 236.4 L386.3 236.2 L386.7 236.5 L387.1 237.1 L387.5 237.1 L387.9 236.7 L388.3 236.9 L388.7 236.9 L389.1 236.5 L389.5 237.2 L389.9 237.6 L390.3 237.8 L390.7 237.3 L391.1 237.1 L391.5 237.5 L391.9 237.9 L392.3 237.9 L392.7 237.1 L393.1 237.3 L393.5 237.4 L393.9 237.2 L394.3 237.4 L394.7 237.7 L395.1 237.7 L395.5 237.7 L395.9 237.3 L396.3 237.0 L396.7 237.4 L397.1 237.3 L397.5 237.6 L397.9 237.8 L398.3 237.2 L398.7 237.5 L399.1 237.7 L399.5 237.7 L399.9 237.8 L400.3 238.0 L400.7 237.8 L401.1 236.8 L401.5 236.6 L401.9 236.7 L402.3 237.2 L402.7 238.1 L403.1 237.9 L403.5 237.1 L403.9 237.3 L404.3 237.8 L404.7 237.5 L405.1 237.5 L405.5 237.6 L405.9 237.2 L406.3 237.3 L406.7 237.4 L407.1 236.8 L407.5 236.4 L407.9 236.3 L408.3 235.8 L408.7 234.3 L409.1 232.1 L409.5 230.3 L409.9 230.3 L410.3 231.3 L410.7 232.7 L411.1 234.0 L411.5 235.1 L411.9 236.0 L412.3 237.0 L412.7 237.8 L413.1 237.6 L413.5 237.6 L413.9 238.0 L414.3 237.7 L414.7 237.6 L415.1 238.0 L415.5 237.7 L415.9 237.9 L416.3 238.1 L416.7 237.8 L417.1 237.8 L417.5 237.4 L417.9 237.6 L418.3 238.0 L418.7 237.8 L419.1 237.8 L419.5 238.0 L419.9 238.0 L420.3 237.8 L420.7 237.8 L421.1 238.2 L421.5 238.2 L421.9 237.8 L422.3 238.0 L422.7 238.1 L423.1 238.1 L423.5 238.1 L423.9 237.7 L424.3 237.4 L424.7 237.4 L425.1 237.7 L425.5 237.4 L425.9 237.5 L426.3 238.4 L426.7 238.2 L427.1 237.7 L427.5 237.3 L427.9 237.6 L428.3 238.1 L428.7 238.1 L429.1 238.2 L429.5 237.9 L429.9 237.7 L430.3 237.9 L430.7 237.7 L431.1 237.6 L431.5 237.5 L431.9 236.8 L432.3 235.8 L432.7 235.0 L433.1 234.9 L433.5 234.3 L433.9 233.9 L434.3 234.3 L434.7 235.4 L435.1 236.2 L435.5 236.5 L435.9 236.9 L436.3 238.0 L436.7 238.2 L437.1 237.6 L437.5 237.7 L437.9 237.9 L438.3 237.9 L438.7 237.6 L439.1 237.6 L439.5 237.6 L439.9 238.0 L440.3 238.5 L440.7 238.0 L441.1 237.7 L441.5 238.3 L441.9 238.0 L442.3 237.9 L442.7 238.2 L443.1 238.2 L443.5 238.1 L443.9 237.9 L444.3 237.9 L444.7 238.2 L445.1 238.1 L445.5 237.8 L445.9 238.1 L446.3 238.3 L446.7 238.4 L447.1 238.2 L447.5 237.6 L447.9 237.9 L448.3 238.6 L448.7 238.7 L449.1 238.6 L449.5 238.5 L449.9 238.3 L450.3 237.8 L450.7 237.9 L451.1 238.1 L451.5 238.4 L451.9 238.6 L452.3 238.2 L452.7 237.9 L453.1 238.0 L453.5 238.1 L453.9 238.5 L454.3 238.3 L454.7 238.2 L455.1 237.9 L455.5 237.1 L455.9 237.4 L456.3 236.8 L456.7 235.2 L457.1 233.8 L457.5 232.4 L457.9 231.6 L458.3 231.9 L458.7 233.1 L459.1 234.6 L459.5 235.7 L459.9 236.7 L460.3 237.3 L460.7 237.8 L461.1 238.1 L461.5 238.1 L461.9 238.3 L462.3 238.1 L462.7 237.9 L463.1 238.1 L463.5 238.3 L463.9 238.6 L464.3 238.5 L464.7 238.1 L465.1 238.2 L465.5 238.3 L465.9 238.5 L466.3 238.8 L466.7 239.1 L467.1 238.4 L467.5 237.8 L467.9 238.2 L468.3 238.5 L468.7 238.7 L469.1 238.5 L469.5 238.6 L469.9 238.4 L470.3 238.1 L470.7 238.3 L471.1 238.2 L471.5 238.5 L471.9 238.5 L472.3 237.9 L472.7 238.1 L473.1 238.0 L473.5 237.8 L473.9 238.2 L474.3 238.6 L474.7 239.4 L475.1 239.1 L475.5 238.1 L475.9 238.1 L476.3 238.6 L476.7 238.3 L477.1 238.2 L477.5 238.8 L477.9 238.8 L478.3 238.2 L478.7 237.9 L479.1 237.7 L479.5 237.7 L479.9 237.8 L480.3 238.1 L480.7 237.6 L481.1 236.4 L481.5 236.3 L481.9 236.0 L482.3 235.0 L482.7 234.1 L483.1 234.0 L483.5 234.1 L483.9 234.5 L484.3 235.2 L484.7 235.6 L485.1 236.4 L485.5 237.5 L485.9 237.5 L486.3 237.6 L486.7 237.9 L487.1 238.0 L487.5 238.1 L487.9 238.1 L488.3 237.8 L488.7 238.5 L489.1 238.9 L489.5 239.0 L489.9 238.8 L490.3 238.7 L490.7 238.7 L491.1 238.7 L491.5 239.0 L491.9 238.8 L492.3 238.5 L492.7 238.4 L493.1 238.7 L493.5 238.2 L493.9 237.7 L494.3 237.9 L494.7 237.8 L495.1 238.3 L495.5 238.7 L495.9 238.5 L496.3 238.6 L496.7 238.5 L497.1 238.0 L497.5 238.3 L497.9 238.5 L498.3 238.4 L498.7 238.1 L499.1 238.3 L499.5 238.9 L499.9 238.7 L500.3 238.3 L500.7 238.1 L501.1 238.1 L501.5 238.2 L501.9 238.2 L502.3 238.8 L502.7 238.9 L503.1 238.3 L503.5 238.4 L503.9 238.2 L504.3 238.3 L504.7 238.8 L505.1 238.2 L505.5 238.0 L505.9 238.1 L506.3 238.7 L506.7 239.0 L507.1 238.3 L507.5 238.0 L507.9 238.3 L508.3 238.3 L508.7 238.3 L509.1 238.5 L509.5 238.1 L509.9 238.2 L510.3 239.0 L510.7 238.9 L511.1 238.6 L511.5 238.4 L511.9 238.1 L512.3 238.3 L512.7 238.2 L513.1 237.8 L513.5 238.2 L513.9 238.4 L514.3 238.3 L514.7 238.5 L515.1 238.5 L515.5 238.6 L515.9 238.7 L516.3 238.4 L516.7 238.5 L517.1 238.5 L517.5 238.4 L517.9 238.3 L518.3 238.3 L518.7 238.2 L519.1 238.5 L519.5 238.8 L519.9 238.3 L520.3 237.8 L520.7 237.8 L521.1 238.5 L521.5 238.6 L521.9 238.5 L522.3 238.6 L522.7 238.3 L523.1 238.0 L523.5 238.2 L523.9 238.7 L524.3 238.8 L524.7 238.7 L525.1 238.3 L525.5 238.1 L525.9 238.1 L526.3 237.9 L526.7 238.3 L527.1 238.2 L527.5 238.2 L527.9 238.4 L528.3 238.7 L528.7 238.7 L529.1 238.5 L529.5 238.7 L529.9 238.8" fill="none" stroke="#111" stroke-width="1" stroke-linejoin="round"/>
<path d="M58.7 346.2 L59.1 346.3 L59.5 345.6 L59.9 344.5 L60.3 344.3 L60.7 344.9 L61.1 345.0 L61.5 344.8 L61.9 344.8 L62.3 344.8 L62.7 344.2 L63.1 344.7 L63.5 345.6 L63.9 345.9 L64.3 345.5 L64.7 344.6 L65.1 344.3 L65.5 343.8 L65.9 344.4 L66.3 344.5 L66.7 343.6 L67.1 343.9 L67.5 345.0 L67.9 345.1 L68.3 344.0 L68.7 343.6 L69.1 344.2 L69.5 344.4 L69.9 343.8 L70.3 343.7 L70.7 344.3 L71.1 345.2 L71.5 344.3 L71.9 343.1 L72.3 343.3 L72.7 342.5 L73.1 342.4 L73.5 342.9 L73.9 343.8 L74.3 344.1 L74.7 342.9 L75.1 343.2 L75.5 343.7 L75.9 342.6 L76.3 342.5 L76.7 342.9 L77.1 342.7 L77.5 343.0 L77.9 342.3 L78.3 342.2 L78.7 343.5 L79.1 343.9 L79.5 343.9 L79.9 344.0 L80.3 344.1 L80.7 343.1 L81.1 342.8 L81.5 342.4 L81.9 341.8 L82.3 341.7 L82.7 342.4 L83.1 343.7 L83.5 343.1 L83.9 343.3 L84.3 343.0 L84.7 342.3 L85.1 342.6 L85.5 341.7 L85.9 340.6 L86.3 341.6 L86.7 340.9 L87.1 340.5 L87.5 340.8 L87.9 341.2 L88.3 341.4 L88.7 340.9 L89.1 341.0 L89.5 340.8 L89.9 339.9 L90.3 340.3 L90.7 340.3 L91.1 339.8 L91.5 340.6 L91.9 340.2 L92.3 339.9 L92.7 340.8 L93.1 340.7 L93.5 339.8 L93.9 338.5 L94.3 338.5 L94.7 339.4 L95.1 339.6 L95.5 339.4 L95.9 339.8 L96.3 339.9 L96.7 339.7 L97.1 340.2 L97.5 339.8 L97.9 339.4 L98.3 340.7 L98.7 341.1 L99.1 339.7 L99.5 339.2 L99.9 340.0 L100.3 340.6 L100.7 340.4 L101.1 339.7 L101.5 339.3 L101.9 339.9 L102.3 340.3 L102.7 339.8 L103.1 339.7 L103.5 339.7 L103.9 340.1 L104.3 340.0 L104.7 340.0 L105.1 340.6 L105.5 340.7 L105.9 340.0 L106.3 340.3 L106.7 340.4 L107.1 340.1 L107.5 340.1 L107.9 339.2 L108.3 339.6 L108.7 340.5 L109.1 340.4 L109.5 340.4 L109.9 340.2 L110.3 339.8 L110.7 340.0 L111.1 341.1 L111.5 341.6 L111.9 340.5 L112.3 340.5 L112.7 340.5 L113.1 340.1 L113.5 340.7 L113.9 340.7 L114.3 339.6 L114.7 339.5 L115.1 340.2 L115.5 340.7 L115.9 341.2 L116.3 340.8 L116.7 340.6 L117.1 341.0 L117.5 340.5 L117.9 340.5 L118.3 340.2 L118.7 338.4 L119.1 336.7 L119.5 333.8 L119.9 330.2 L120.3 327.9 L120.7 327.0 L121.1 327.9 L121.5 330.5 L121.9 334.0 L122.3 337.3 L122.7 338.9 L123.1 339.7 L123.5 340.6 L123.9 340.3 L124.3 341.7 L124.7 342.3 L125.1 340.7 L125.5 341.4 L125.9 341.6 L126.3 341.2 L126.7 342.1 L127.1 341.7 L127.5 341.2 L127.9 341.3 L128.3 341.5 L128.7 341.1 L129.1 340.6 L129.5 341.3 L129.9 342.3 L130.3 342.7 L130.7 343.0 L131.1 343.0 L131.5 342.1 L131.9 341.8 L132.3 341.1 L132.7 340.8 L133.1 341.3 L133.5 341.8 L133.9 342.5 L134.3 342.2 L134.7 341.7 L135.1 341.3 L135.5 341.5 L135.9 342.3 L136.3 342.6 L136.7 342.1 L137.1 342.8 L137.5 343.7 L137.9 342.8 L138.3 342.1 L138.7 342.0 L139.1 342.3 L139.5 342.5 L139.9 342.7 L140.3 343.0 L140.7 343.4 L141.1 343.6 L141.5 343.0 L141.9 342.7 L142.3 342.6 L142.7 342.2 L143.1 343.2 L143.5 343.3 L143.9 343.3 L144.3 343.4 L144.7 342.7 L145.1 343.3 L145.5 343.2 L145.9 342.9 L146.3 342.8 L146.7 342.5 L147.1 342.5 L147.5 342.5 L147.9 343.3 L148.3 343.5 L148.7 343.6 L149.1 342.5 L149.5 341.8 L149.9 343.2 L150.3 343.1 L150.7 343.3 L151.1 343.6 L151.5 343.0 L151.9 342.9 L152.3 344.2 L152.7 344.1 L153.1 343.0 L153.5 342.7 L153.9 342.6 L154.3 342.2 L154.7 342.1 L155.1 343.7 L155.5 344.2 L155.9 343.4 L156.3 343.4 L156.7 343.9 L157.1 343.6 L157.5 343.7 L157.9 343.9 L158.3 343.0 L158.7 343.3 L159.1 342.2 L159.5 341.2 L159.9 342.3 L160.3 342.1 L160.7 341.9 L161.1 342.0 L161.5 341.8 L161.9 343.2 L162.3 343.7 L162.7 342.5 L163.1 342.8 L163.5 342.7 L163.9 342.5 L164.3 342.7 L164.7 343.0 L165.1 342.2 L165.5 341.8 L165.9 342.5 L166.3 341.6 L166.7 342.0 L167.1 342.1 L167.5 342.3 L167.9 342.9 L168.3 342.4 L168.7 342.2 L169.1 342.3 L169.5 341.4 L169.9 341.0 L170.3 341.5 L170.7 341.6 L171.1 341.8 L171.5 341.9 L171.9 341.5 L172.3 341.9 L172.7 343.2 L173.1 342.3 L173.5 341.2 L173.9 341.3 L174.3 341.7 L174.7 342.3 L175.1 341.0 L175.5 339.6 L175.9 339.1 L176.3 337.5 L176.7 334.5 L177.1 329.8 L177.5 321.6 L177.9 311.5 L178.3 302.5 L178.7 297.2 L179.1 300.6 L179.5 310.5 L179.9 322.1 L180.3 330.4 L180.7 334.4 L181.1 337.4 L181.5 339.5 L181.9 339.8 L182.3 340.6 L182.7 341.1 L183.1 340.7 L183.5 340.3 L183.9 340.1 L184.3 340.4 L184.7 339.4 L185.1 339.6 L185.5 339.8 L185.9 339.6 L186.3 339.7 L186.7 340.5 L187.1 341.2 L187.5 340.5 L187.9 340.5 L188.3 339.1 L188.7 336.8 L189.1 335.4 L189.5 333.8 L189.9 329.8 L190.3 324.7 L190.7 320.3 L191.1 316.8 L191.5 317.4 L191.9 322.7 L192.3 327.3 L192.7 330.3 L193.1 334.0 L193.5 337.0 L193.9 338.5 L194.3 338.9 L194.7 339.1 L195.1 338.7 L195.5 339.1 L195.9 340.7 L196.3 340.9 L196.7 339.6 L197.1 339.2 L197.5 338.6 L197.9 338.5 L198.3 339.8 L198.7 339.2 L199.1 339.3 L199.5 339.8 L199.9 340.0 L200.3 340.0 L200.7 339.6 L201.1 338.7 L201.5 338.1 L201.9 338.7 L202.3 339.2 L202.7 339.4 L203.1 339.8 L203.5 339.4 L203.9 338.5 L204.3 338.8 L204.7 338.6 L205.1 338.4 L205.5 337.7 L205.9 337.1 L206.3 335.3 L206.7 332.0 L207.1 327.3 L207.5 321.0 L207.9 313.1 L208.3 305.8 L208.7 301.9 L209.1 301.7 L209.5 306.7 L209.9 313.0 L210.3 319.2 L210.7 325.6 L211.1 331.0 L211.5 333.8 L211.9 335.5 L212.3 336.8 L212.7 336.8 L213.1 337.4 L213.5 338.2 L213.9 338.1 L214.3 337.8 L214.7 338.0 L215.1 338.0 L215.5 336.8 L215.9 336.4 L216.3 336.8 L216.7 336.2 L217.1 335.0 L217.5 332.3 L217.9 328.9 L218.3 326.5 L218.7 326.4 L219.1 328.7 L219.5 331.5 L219.9 333.0 L220.3 333.7 L220.7 334.2 L221.1 332.7 L221.5 327.6 L221.9 318.5 L222.3 306.8 L222.7 293.2 L223.1 279.7 L223.5 270.4 L223.9 269.0 L224.3 275.5 L224.7 288.0 L225.1 301.7 L225.5 314.3 L225.9 324.4 L226.3 331.1 L226.7 336.0 L227.1 338.4 L227.5 338.4 L227.9 339.1 L228.3 340.0 L228.7 339.9 L229.1 340.1 L229.5 341.4 L229.9 342.7 L230.3 342.2 L230.7 342.1 L231.1 343.0 L231.5 342.2 L231.9 341.8 L232.3 342.4 L232.7 342.6 L233.1 342.0 L233.5 341.8 L233.9 343.0 L234.3 343.7 L234.7 344.1 L235.1 343.5 L235.5 343.5 L235.9 344.0 L236.3 342.6 L236.7 342.7 L237.1 343.2 L237.5 343.1 L237.9 343.3 L238.3 343.6 L238.7 343.8 L239.1 343.2 L239.5 343.5 L239.9 343.7 L240.3 343.2 L240.7 343.7 L241.1 343.7 L241.5 342.9 L241.9 342.9 L242.3 342.5 L242.7 342.6 L243.1 344.0 L243.5 343.9 L243.9 343.1 L244.3 343.0 L244.7 342.8 L245.1 343.9 L245.5 344.6 L245.9 343.7 L246.3 343.4 L246.7 343.3 L247.1 343.0 L247.5 342.9 L247.9 342.9 L248.3 343.4 L248.7 344.0 L249.1 344.0 L249.5 343.5 L249.9 342.5 L250.3 342.3 L250.7 342.1 L251.1 342.1 L251.5 342.2 L251.9 341.7 L252.3 340.8 L252.7 339.4 L253.1 339.8 L253.5 341.2 L253.9 340.5 L254.3 340.5 L254.7 342.2 L255.1 342.2 L255.5 343.0 L255.9 343.7 L256.3 342.9 L256.7 343.9 L257.1 344.7 L257.5 343.9 L257.9 344.3 L258.3 343.7 L258.7 344.1 L259.1 344.3 L259.5 343.3 L259.9 342.6 L260.3 341.1 L260.7 339.5 L261.1 336.4 L261.5 333.9 L261.9 332.9 L262.3 332.7 L262.7 334.8 L263.1 337.4 L263.5 339.6 L263.9 342.4 L264.3 343.9 L264.7 344.7 L265.1 345.3 L265.5 344.6 L265.9 343.7 L266.3 344.0 L266.7 345.0 L267.1 345.3 L267.5 344.9 L267.9 345.4 L268.3 345.1 L268.7 344.2 L269.1 345.0 L269.5 346.5 L269.9 346.7 L270.3 345.4 L270.7 345.5 L271.1 346.2 L271.5 346.4 L271.9 346.0 L272.3 345.3 L272.7 345.5 L273.1 346.1 L273.5 346.8 L273.9 347.5 L274.3 346.6 L274.7 345.5 L275.1 345.8 L275.5 346.0 L275.9 346.2 L276.3 346.6 L276.7 346.5 L277.1 346.9 L277.5 346.7 L277.9 345.6 L278.3 345.0 L278.7 345.0 L279.1 345.2 L279.5 344.8 L279.9 345.5 L280.3 346.3 L280.7 345.8 L281.1 345.3 L281.5 344.8 L281.9 344.8 L282.3 346.2 L282.7 345.6 L283.1 344.9 L283.5 346.1 L283.9 346.1 L284.3 345.6 L284.7 345.8 L285.1 345.4 L285.5 345.3 L285.9 346.4 L286.3 345.6 L286.7 344.7 L287.1 345.1 L287.5 345.9 L287.9 346.3 L288.3 346.2 L288.7 345.3 L289.1 344.5 L289.5 344.8 L289.9 345.4 L290.3 344.8 L290.7 344.6 L291.1 345.2 L291.5 345.6 L291.9 345.0 L292.3 344.7 L292.7 344.5 L293.1 344.0 L293.5 344.4 L293.9 345.0 L294.3 346.3 L294.7 345.5 L295.1 343.9 L295.5 343.8 L295.9 342.6 L296.3 341.9 L296.7 341.4 L297.1 341.3 L297.5 341.9 L297.9 341.0 L298.3 339.7 L298.7 340.1 L299.1 340.6 L299.5 340.2 L299.9 340.7 L300.3 340.4 L300.7 340.8 L301.1 342.5 L301.5 343.0 L301.9 343.1 L302.3 342.9 L302.7 343.4 L303.1 344.1 L303.5 344.0 L303.9 343.9 L304.3 344.3 L304.7 345.2 L305.1 345.0 L305.5 344.9 L305.9 345.3 L306.3 345.6 L306.7 345.2 L307.1 344.4 L307.5 344.1 L307.9 344.3 L308.3 344.7 L308.7 345.1 L309.1 344.7 L309.5 344.3 L309.9 344.1 L310.3 344.6 L310.7 344.8 L311.1 344.4 L311.5 344.3 L311.9 344.0 L312.3 344.0 L312.7 344.9 L313.1 345.3 L313.5 344.5 L313.9 344.0 L314.3 343.8 L314.7 344.4 L315.1 345.4 L315.5 344.5 L315.9 343.4 L316.3 343.9 L316.7 344.1 L317.1 343.4 L317.5 343.7 L317.9 344.7 L318.3 344.0 L318.7 343.7 L319.1 344.8 L319.5 345.1 L319.9 344.5 L320.3 345.0 L320.7 345.4 L321.1 344.0 L321.5 344.1 L321.9 343.9 L322.3 343.7 L322.7 343.6 L323.1 343.3 L323.5 343.4 L323.9 343.2 L324.3 343.1 L324.7 341.9 L325.1 340.0 L325.5 337.9 L325.9 333.8 L326.3 328.9 L326.7 324.2 L327.1 317.7 L327.5 311.0 L327.9 306.1 L328.3 301.3 L328.7 298.5 L329.1 300.1 L329.5 304.9 L329.9 310.2 L330.3 317.1 L330.7 324.3 L331.1 328.3 L331.5 332.7 L331.9 337.0 L332.3 339.9 L332.7 341.5 L333.1 342.8 L333.5 343.4 L333.9 343.4 L334.3 342.7 L334.7 343.2 L335.1 344.6 L335.5 344.4 L335.9 343.2 L336.3 342.9 L336.7 344.5 L337.1 344.8 L337.5 343.9 L337.9 343.8 L338.3 344.5 L338.7 344.6 L339.1 344.0 L339.5 343.6 L339.9 344.0 L340.3 345.0 L340.7 345.0 L341.1 345.0 L341.5 345.2 L341.9 344.8 L342.3 344.9 L342.7 344.8 L343.1 345.2 L343.5 345.4 L343.9 344.7 L344.3 344.5 L344.7 344.8 L345.1 344.9 L345.5 345.0 L345.9 344.9 L346.3 344.0 L346.7 343.8 L347.1 344.7 L347.5 343.5 L347.9 343.2 L348.3 343.5 L348.7 342.4 L349.1 341.5 L349.5 342.2 L349.9 342.9 L350.3 342.7 L350.7 343.8 L351.1 343.9 L351.5 343.5 L351.9 343.6 L352.3 344.0 L352.7 344.8 L353.1 345.0 L353.5 344.9 L353.9 344.5 L354.3 344.3 L354.7 343.9 L355.1 344.3 L355.5 344.0 L355.9 341.1 L356.3 338.7 L356.7 337.7 L357.1 334.7 L357.5 331.2 L357.9 330.2 L358.3 330.0 L358.7 331.9 L359.1 335.8 L359.5 337.8 L359.9 340.1 L360.3 341.9 L360.7 342.3 L361.1 343.5 L361.5 344.4 L361.9 344.3 L362.3 344.6 L362.7 344.4 L363.1 343.7 L363.5 343.9 L363.9 344.6 L364.3 345.4 L364.7 345.4 L365.1 344.5 L365.5 344.3 L365.9 345.1 L366.3 344.3 L366.7 343.8 L367.1 344.8 L367.5 345.4 L367.9 345.3 L368.3 345.2 L368.7 345.2 L369.1 345.1 L369.5 344.9 L369.9 344.5 L370.3 344.4 L370.7 344.6 L371.1 345.7 L371.5 346.0 L371.9 345.0 L372.3 344.7 L372.7 344.6 L373.1 344.5 L373.5 344.7 L373.9 344.5 L374.3 344.3 L374.7 343.7 L375.1 343.1 L375.5 343.4 L375.9 342.6 L376.3 342.4 L376.7 343.2 L377.1 343.4 L377.5 343.5 L377.9 343.2 L378.3 344.1 L378.7 344.7 L379.1 343.8 L379.5 344.5 L379.9 344.3 L380.3 344.4 L380.7 345.4 L381.1 345.2 L381.5 345.0 L381.9 344.2 L382.3 343.4 L382.7 344.4 L383.1 344.7 L383.5 343.5 L383.9 343.8 L384.3 343.0 L384.7 341.3 L385.1 340.5 L385.5 339.9 L385.9 339.3 L386.3 339.4 L386.7 341.1 L387.1 342.5 L387.5 341.6 L387.9 341.3 L388.3 343.2 L388.7 344.4 L389.1 344.4 L389.5 345.0 L389.9 344.5 L390.3 344.6 L390.7 345.4 L391.1 345.2 L391.5 345.2 L391.9 345.4 L392.3 345.1 L392.7 344.6 L393.1 345.0 L393.5 345.3 L393.9 344.5 L394.3 345.0 L394.7 346.0 L395.1 346.1 L395.5 345.6 L395.9 345.1 L396.3 344.9 L396.7 344.4 L397.1 344.6 L397.5 345.0 L397.9 344.7 L398.3 345.4 L398.7 345.0 L399.1 343.9 L399.5 344.3 L399.9 345.2 L400.3 345.4 L400.7 344.7 L401.1 344.4 L401.5 344.2 L401.9 344.1 L402.3 344.8 L402.7 345.6 L403.1 345.6 L403.5 345.1 L403.9 345.7 L404.3 345.6 L404.7 343.6 L405.1 343.9 L405.5 344.8 L405.9 345.3 L406.3 344.8 L406.7 344.7 L407.1 345.8 L407.5 345.2 L407.9 344.1 L408.3 343.7 L408.7 344.1 L409.1 345.0 L409.5 345.0 L409.9 344.6 L410.3 344.3 L410.7 343.1 L411.1 341.7 L411.5 339.9 L411.9 337.9 L412.3 337.5 L412.7 337.3 L413.1 338.0 L413.5 340.0 L413.9 341.3 L414.3 341.7 L414.7 342.3 L415.1 343.9 L415.5 344.4 L415.9 344.2 L416.3 344.6 L416.7 344.6 L417.1 345.3 L417.5 345.0 L417.9 344.0 L418.3 344.9 L418.7 345.6 L419.1 345.3 L419.5 345.2 L419.9 345.2 L420.3 345.8 L420.7 346.0 L421.1 345.4 L421.5 344.7 L421.9 345.0 L422.3 345.2 L422.7 345.3 L423.1 344.9 L423.5 343.7 L423.9 344.2 L424.3 345.5 L424.7 345.6 L425.1 345.9 L425.5 346.0 L425.9 345.2 L426.3 345.2 L426.7 345.4 L427.1 345.5 L427.5 345.6 L427.9 345.3 L428.3 345.3 L428.7 345.1 L429.1 344.4 L429.5 344.4 L429.9 344.0 L430.3 344.2 L430.7 345.6 L431.1 346.3 L431.5 346.0 L431.9 344.8 L432.3 344.0 L432.7 345.1 L433.1 345.1 L433.5 344.6 L433.9 344.1 L434.3 343.6 L434.7 344.5 L435.1 344.2 L435.5 343.3 L435.9 342.0 L436.3 340.9 L436.7 341.0 L437.1 341.2 L437.5 340.8 L437.9 341.3 L438.3 341.7 L438.7 342.9 L439.1 344.5 L439.5 344.3 L439.9 344.2 L440.3 345.2 L440.7 345.0 L441.1 345.5 L441.5 346.4 L441.9 345.5 L442.3 345.3 L442.7 346.1 L443.1 345.2 L443.5 344.8 L443.9 345.2 L444.3 344.9 L444.7 345.3 L445.1 345.1 L445.5 344.3 L445.9 343.9 L446.3 344.4 L446.7 345.3 L447.1 345.3 L447.5 345.0 L447.9 345.0 L448.3 345.6 L448.7 345.8 L449.1 345.0 L449.5 344.6 L449.9 345.5 L450.3 345.3 L450.7 344.7 L451.1 344.9 L451.5 344.6 L451.9 345.0 L452.3 344.5 L452.7 344.8 L453.1 345.5 L453.5 344.3 L453.9 344.6 L454.3 344.4 L454.7 344.5 L455.1 345.6 L455.5 345.1 L455.9 344.6 L456.3 345.2 L456.7 345.1 L457.1 344.6 L457.5 345.0 L457.9 345.5 L458.3 344.8 L458.7 343.7 L459.1 343.7 L459.5 341.6 L459.9 339.7 L460.3 338.7 L460.7 337.0 L461.1 338.1 L461.5 339.1 L461.9 339.8 L462.3 340.8 L462.7 341.7 L463.1 342.8 L463.5 343.2 L463.9 343.9 L464.3 344.6 L464.7 345.5 L465.1 345.5 L465.5 345.1 L465.9 345.1 L466.3 345.0 L466.7 344.6 L467.1 345.0 L467.5 345.3 L467.9 344.9 L468.3 345.0 L468.7 345.5 L469.1 345.8 L469.5 345.4 L469.9 345.2 L470.3 345.4 L470.7 345.6 L471.1 345.7 L471.5 345.9 L471.9 346.4 L472.3 346.1 L472.7 344.9 L473.1 345.4 L473.5 346.8 L473.9 345.9 L474.3 344.9 L474.7 344.1 L475.1 344.6 L475.5 345.1 L475.9 345.5 L476.3 344.9 L476.7 344.2 L477.1 345.5 L477.5 345.3 L477.9 344.7 L478.3 344.9 L478.7 345.1 L479.1 344.8 L479.5 345.0 L479.9 344.9 L480.3 344.8 L480.7 345.3 L481.1 345.2 L481.5 344.9 L481.9 344.7 L482.3 344.9 L482.7 344.4 L483.1 344.0 L483.5 342.8 L483.9 341.3 L484.3 341.2 L484.7 341.1 L485.1 341.1 L485.5 339.6 L485.9 339.0 L486.3 340.3 L486.7 341.1 L487.1 341.6 L487.5 341.8 L487.9 341.7 L488.3 343.3 L488.7 345.4 L489.1 345.3 L489.5 344.8 L489.9 344.8 L490.3 345.2 L490.7 345.4 L491.1 344.8 L491.5 344.2 L491.9 344.2 L492.3 345.1 L492.7 345.9 L493.1 345.3 L493.5 345.1 L493.9 345.5 L494.3 345.0 L494.7 344.7 L495.1 344.1 L495.5 344.0 L495.9 345.4 L496.3 345.5 L496.7 344.6 L497.1 345.6 L497.5 344.8 L497.9 344.6 L498.3 345.3 L498.7 345.1 L499.1 345.7 L499.5 345.6 L499.9 345.1 L500.3 345.5 L500.7 345.9 L501.1 345.3 L501.5 344.9 L501.9 344.7 L502.3 345.3 L502.7 345.3 L503.1 344.9 L503.5 346.1 L503.9 346.4 L504.3 345.5 L504.7 344.9 L505.1 344.8 L505.5 345.5 L505.9 345.9 L506.3 345.5 L506.7 346.4 L507.1 346.1 L507.5 344.8 L507.9 345.0 L508.3 345.3 L508.7 345.6 L509.1 345.4 L509.5 345.6 L509.9 345.9 L510.3 345.5 L510.7 344.2 L511.1 344.7 L511.5 345.3 L511.9 344.7 L512.3 345.0 L512.7 344.8 L513.1 344.5 L513.5 345.0 L513.9 345.2 L514.3 345.3 L514.7 345.1 L515.1 344.9 L515.5 344.8 L515.9 344.8 L516.3 345.4 L516.7 345.4 L517.1 344.6 L517.5 344.7 L517.9 345.3 L518.3 345.9 L518.7 345.8 L519.1 345.2 L519.5 344.7 L519.9 345.7 L520.3 345.8 L520.7 344.5 L521.1 344.8 L521.5 344.5 L521.9 345.1 L522.3 345.9 L522.7 345.7 L523.1 345.2 L523.5 344.8 L523.9 345.5 L524.3 346.1 L524.7 347.0 L525.1 347.1 L525.5 345.1 L525.9 344.6 L526.3 345.3 L526.7 345.7 L527.1 345.9 L527.5 345.6 L527.9 345.5 L528.3 345.6 L528.7 346.3 L529.1 345.8 L529.5 344.3 L529.9 344.1" fill="none" stroke="#111" stroke-width="1" stroke-linejoin="round"/>
<path d="M58.7 463.0 L59.1 463.0 L59.5 463.0 L59.9 463.0 L60.3 463.0 L60.7 463.0 L61.1 463.0 L61.5 463.0 L61.9 463.0 L62.3 463.0 L62.7 463.0 L63.1 463.0 L63.5 463.0 L63.9 463.0 L64.3 463.0 L64.7 463.0 L65.1 463.0 L65.5 463.0 L65.9 463.0 L66.3 463.0 L66.7 463.0 L67.1 463.0 L67.5 463.0 L67.9 463.0 L68.3 463.0 L68.7 463.0 L69.1 463.0 L69.5 463.0 L69.9 463.0 L70.3 463.0 L70.7 463.0 L71.1 463.0 L71.5 463.0 L71.9 463.0 L72.3 463.0 L72.7 463.0 L73.1 463.0 L73.5 463.0 L73.9 463.0 L74.3 463.0 L74.7 463.0 L75.1 463.0 L75.5 463.0 L75.9 463.0 L76.3 463.0 L76.7 463.0 L77.1 463.0 L77.5 463.0 L77.9 463.0 L78.3 463.0 L78.7 463.0 L79.1 463.0 L79.5 463.0 L79.9 463.0 L80.3 463.0 L80.7 463.0 L81.1 463.0 L81.5 463.0 L81.9 463.0 L82.3 463.0 L82.7 463.0 L83.1 463.0 L83.5 463.0 L83.9 463.0 L84.3 463.0 L84.7 463.0 L85.1 463.0 L85.5 462.9 L85.9 462.9 L86.3 462.9 L86.7 462.9 L87.1 462.9 L87.5 462.9 L87.9 462.9 L88.3 462.9 L88.7 462.9 L89.1 462.9 L89.5 462.9 L89.9 462.9 L90.3 462.9 L90.7 462.9 L91.1 462.8 L91.5 462.8 L91.9 462.7 L92.3 462.3 L92.7 461.4 L93.1 459.6 L93.5 457.4 L93.9 456.3 L94.3 457.4 L94.7 459.6 L95.1 461.4 L95.5 462.3 L95.9 462.6 L96.3 462.7 L96.7 462.8 L97.1 462.8 L97.5 462.8 L97.9 462.8 L98.3 462.7 L98.7 462.5 L99.1 461.9 L99.5 460.6 L99.9 458.9 L100.3 457.6 L100.7 458.1 L101.1 459.8 L101.5 461.4 L101.9 462.3 L102.3 462.6 L102.7 462.8 L103.1 462.8 L103.5 462.8 L103.9 462.9 L104.3 462.9 L104.7 462.9 L105.1 462.9 L105.5 462.9 L105.9 462.9 L106.3 462.9 L106.7 462.9 L107.1 462.9 L107.5 462.9 L107.9 462.9 L108.3 462.9 L108.7 462.9 L109.1 462.9 L109.5 462.9 L109.9 462.8 L110.3 462.8 L110.7 462.8 L111.1 462.8 L111.5 462.8 L111.9 462.8 L112.3 462.7 L112.7 462.7 L113.1 462.6 L113.5 462.6 L113.9 462.5 L114.3 462.3 L114.7 461.9 L115.1 460.8 L115.5 458.0 L115.9 452.6 L116.3 445.7 L116.7 440.9 L117.1 442.7 L117.5 449.2 L117.9 455.6 L118.3 459.6 L118.7 461.5 L119.1 462.1 L119.5 462.4 L119.9 462.5 L120.3 462.6 L120.7 462.6 L121.1 462.7 L121.5 462.7 L121.9 462.7 L122.3 462.7 L122.7 462.6 L123.1 462.5 L123.5 462.1 L123.9 461.5 L124.3 460.6 L124.7 459.5 L125.1 458.6 L125.5 458.4 L125.9 459.0 L126.3 460.1 L126.7 461.1 L127.1 461.9 L127.5 462.4 L127.9 462.6 L128.3 462.7 L128.7 462.8 L129.1 462.8 L129.5 462.8 L129.9 462.8 L130.3 462.8 L130.7 462.8 L131.1 462.9 L131.5 462.9 L131.9 462.9 L132.3 462.9 L132.7 462.9 L133.1 462.9 L133.5 462.9 L133.9 462.9 L134.3 462.9 L134.7 462.9 L135.1 462.9 L135.5 462.9 L135.9 462.9 L136.3 462.8 L136.7 462.8 L137.1 462.8 L137.5 462.8 L137.9 462.7 L138.3 462.6 L138.7 462.3 L139.1 461.4 L139.5 459.9 L139.9 458.3 L140.3 457.8 L140.7 459.0 L141.1 460.7 L141.5 461.9 L141.9 462.5 L142.3 462.7 L142.7 462.8 L143.1 462.8 L143.5 462.8 L143.9 462.8 L144.3 462.9 L144.7 462.9 L145.1 462.9 L145.5 462.9 L145.9 462.9 L146.3 462.9 L146.7 462.9 L147.1 462.9 L147.5 462.9 L147.9 462.9 L148.3 462.9 L148.7 462.9 L149.1 462.9 L149.5 462.9 L149.9 462.9 L150.3 462.9 L150.7 462.9 L151.1 462.9 L151.5 462.9 L151.9 462.9 L152.3 462.9 L152.7 462.9 L153.1 462.9 L153.5 462.9 L153.9 462.9 L154.3 462.9 L154.7 462.9 L155.1 462.9 L155.5 462.9 L155.9 462.9 L156.3 462.9 L156.7 462.9 L157.1 462.9 L157.5 462.9 L157.9 462.9 L158.3 462.9 L158.7 462.9 L159.1 462.9 L159.5 462.9 L159.9 462.9 L160.3 462.9 L160.7 462.8 L161.1 462.8 L161.5 462.8 L161.9 462.8 L162.3 462.8 L162.7 462.8 L163.1 462.8 L163.5 462.8 L163.9 462.8 L164.3 462.8 L164.7 462.8 L165.1 462.8 L165.5 462.8 L165.9 462.8 L166.3 462.8 L166.7 462.8 L167.1 462.8 L167.5 462.7 L167.9 462.7 L168.3 462.7 L168.7 462.7 L169.1 462.7 L169.5 462.6 L169.9 462.6 L170.3 462.5 L170.7 462.5 L171.1 462.4 L171.5 462.3 L171.9 462.2 L172.3 462.0 L172.7 461.8 L173.1 461.3 L173.5 460.1 L173.9 456.8 L174.3 449.0 L174.7 435.4 L175.1 419.7 L175.5 411.9 L175.9 419.7 L176.3 435.4 L176.7 449.0 L177.1 456.7 L177.5 460.0 L177.9 461.2 L178.3 461.7 L178.7 462.0 L179.1 462.1 L179.5 462.2 L179.9 462.3 L180.3 462.4 L180.7 462.4 L181.1 462.4 L181.5 462.4 L181.9 462.4 L182.3 462.4 L182.7 462.4 L183.1 462.3 L183.5 462.2 L183.9 462.0 L184.3 461.6 L184.7 460.6 L185.1 458.6 L185.5 455.3 L185.9 450.9 L186.3 446.4 L186.7 443.8 L187.1 444.8 L187.5 448.6 L187.9 453.3 L188.3 457.2 L188.7 459.8 L189.1 461.2 L189.5 461.9 L189.9 462.2 L190.3 462.4 L190.7 462.4 L191.1 462.5 L191.5 462.5 L191.9 462.6 L192.3 462.6 L192.7 462.6 L193.1 462.5 L193.5 462.4 L193.9 462.2 L194.3 461.8 L194.7 461.5 L195.1 461.4 L195.5 461.5 L195.9 461.9 L196.3 462.2 L196.7 462.5 L197.1 462.6 L197.5 462.7 L197.9 462.7 L198.3 462.7 L198.7 462.7 L199.1 462.8 L199.5 462.8 L199.9 462.8 L200.3 462.8 L200.7 462.8 L201.1 462.8 L201.5 462.8 L201.9 462.8 L202.3 462.8 L202.7 462.8 L203.1 462.8 L203.5 462.8 L203.9 462.8 L204.3 462.8 L204.7 462.8 L205.1 462.7 L205.5 462.7 L205.9 462.7 L206.3 462.7 L206.7 462.7 L207.1 462.7 L207.5 462.7 L207.9 462.7 L208.3 462.7 L208.7 462.7 L209.1 462.7 L209.5 462.7 L209.9 462.7 L210.3 462.6 L210.7 462.6 L211.1 462.6 L211.5 462.6 L211.9 462.6 L212.3 462.5 L212.7 462.5 L213.1 462.4 L213.5 462.4 L213.9 462.3 L214.3 462.3 L214.7 462.2 L215.1 462.1 L215.5 461.9 L215.9 461.8 L216.3 461.5 L216.7 461.2 L217.1 460.7 L217.5 459.8 L217.9 457.3 L218.3 450.7 L218.7 436.2 L219.1 413.1 L219.5 389.5 L219.9 382.0 L220.3 395.7 L220.7 414.0 L221.1 423.6 L221.5 424.5 L221.9 426.2 L222.3 434.1 L222.7 444.6 L223.1 453.0 L223.5 457.9 L223.9 460.2 L224.3 461.1 L224.7 461.5 L225.1 461.8 L225.5 461.9 L225.9 462.1 L226.3 462.2 L226.7 462.3 L227.1 462.3 L227.5 462.4 L227.9 462.4 L228.3 462.5 L228.7 462.5 L229.1 462.5 L229.5 462.6 L229.9 462.6 L230.3 462.6 L230.7 462.6 L231.1 462.6 L231.5 462.6 L231.9 462.6 L232.3 462.5 L232.7 462.4 L233.1 462.2 L233.5 461.8 L233.9 461.6 L234.3 461.5 L234.7 461.7 L235.1 462.0 L235.5 462.3 L235.9 462.5 L236.3 462.6 L236.7 462.7 L237.1 462.7 L237.5 462.7 L237.9 462.7 L238.3 462.7 L238.7 462.8 L239.1 462.8 L239.5 462.8 L239.9 462.8 L240.3 462.8 L240.7 462.8 L241.1 462.8 L241.5 462.8 L241.9 462.8 L242.3 462.8 L242.7 462.8 L243.1 462.8 L243.5 462.8 L243.9 462.8 L244.3 462.8 L244.7 462.8 L245.1 462.8 L245.5 462.8 L245.9 462.8 L246.3 462.8 L246.7 462.8 L247.1 462.8 L247.5 462.8 L247.9 462.8 L248.3 462.8 L248.7 462.8 L249.1 462.8 L249.5 462.8 L249.9 462.8 L250.3 462.7 L250.7 462.7 L251.1 462.7 L251.5 462.7 L251.9 462.7 L252.3 462.7 L252.7 462.7 L253.1 462.7 L253.5 462.7 L253.9 462.6 L254.3 462.6 L254.7 462.6 L255.1 462.5 L255.5 462.4 L255.9 462.2 L256.3 461.6 L256.7 460.4 L257.1 458.1 L257.5 454.7 L257.9 450.9 L258.3 448.6 L258.7 449.4 L259.1 452.7 L259.5 456.5 L259.9 459.4 L260.3 461.1 L260.7 462.0 L261.1 462.3 L261.5 462.5 L261.9 462.5 L262.3 462.6 L262.7 462.6 L263.1 462.6 L263.5 462.7 L263.9 462.7 L264.3 462.7 L264.7 462.7 L265.1 462.7 L265.5 462.7 L265.9 462.7 L266.3 462.7 L266.7 462.8 L267.1 462.8 L267.5 462.8 L267.9 462.8 L268.3 462.8 L268.7 462.8 L269.1 462.8 L269.5 462.8 L269.9 462.8 L270.3 462.8 L270.7 462.8 L271.1 462.8 L271.5 462.8 L271.9 462.8 L272.3 462.8 L272.7 462.8 L273.1 462.8 L273.5 462.8 L273.9 462.8 L274.3 462.8 L274.7 462.8 L275.1 462.8 L275.5 462.8 L275.9 462.8 L276.3 462.8 L276.7 462.8 L277.1 462.8 L277.5 462.8 L277.9 462.8 L278.3 462.8 L278.7 462.8 L279.1 462.8 L279.5 462.8 L279.9 462.8 L280.3 462.8 L280.7 462.8 L281.1 462.7 L281.5 462.7 L281.9 462.7 L282.3 462.6 L282.7 462.5 L283.1 462.4 L283.5 462.2 L283.9 462.1 L284.3 461.9 L284.7 461.8 L285.1 461.8 L285.5 461.9 L285.9 462.1 L286.3 462.2 L286.7 462.4 L287.1 462.5 L287.5 462.6 L287.9 462.7 L288.3 462.7 L288.7 462.7 L289.1 462.7 L289.5 462.8 L289.9 462.8 L290.3 462.8 L290.7 462.8 L291.1 462.8 L291.5 462.8 L291.9 462.8 L292.3 462.8 L292.7 462.8 L293.1 462.8 L293.5 462.8 L293.9 462.8 L294.3 462.8 L294.7 462.8 L295.1 462.8 L295.5 462.8 L295.9 462.8 L296.3 462.8 L296.7 462.8 L297.1 462.8 L297.5 462.8 L297.9 462.8 L298.3 462.8 L298.7 462.8 L299.1 462.8 L299.5 462.8 L299.9 462.8 L300.3 462.8 L300.7 462.8 L301.1 462.8 L301.5 462.7 L301.9 462.7 L302.3 462.7 L302.7 462.7 L303.1 462.7 L303.5 462.7 L303.9 462.7 L304.3 462.7 L304.7 462.7 L305.1 462.7 L305.5 462.7 L305.9 462.7 L306.3 462.7 L306.7 462.7 L307.1 462.7 L307.5 462.7 L307.9 462.7 L308.3 462.7 L308.7 462.7 L309.1 462.7 L309.5 462.7 L309.9 462.7 L310.3 462.7 L310.7 462.7 L311.1 462.7 L311.5 462.7 L311.9 462.7 L312.3 462.7 L312.7 462.7 L313.1 462.6 L313.5 462.6 L313.9 462.6 L314.3 462.6 L314.7 462.6 L315.1 462.6 L315.5 462.6 L315.9 462.6 L316.3 462.5 L316.7 462.5 L317.1 462.5 L317.5 462.5 L317.9 462.4 L318.3 462.4 L318.7 462.3 L319.1 462.3 L319.5 462.2 L319.9 462.1 L320.3 462.0 L320.7 461.9 L321.1 461.7 L321.5 461.5 L321.9 461.1 L322.3 460.2 L322.7 458.2 L323.1 454.0 L323.5 446.5 L323.9 435.7 L324.3 424.1 L324.7 416.4 L325.1 415.0 L325.5 416.2 L325.9 416.6 L326.3 417.8 L326.7 424.1 L327.1 434.6 L327.5 445.2 L327.9 453.1 L328.3 457.7 L328.7 460.0 L329.1 461.0 L329.5 461.4 L329.9 461.7 L330.3 461.9 L330.7 462.0 L331.1 462.1 L331.5 462.2 L331.9 462.3 L332.3 462.3 L332.7 462.4 L333.1 462.4 L333.5 462.4 L333.9 462.5 L334.3 462.5 L334.7 462.5 L335.1 462.5 L335.5 462.5 L335.9 462.6 L336.3 462.6 L336.7 462.6 L337.1 462.6 L337.5 462.6 L337.9 462.6 L338.3 462.6 L338.7 462.6 L339.1 462.6 L339.5 462.6 L339.9 462.6 L340.3 462.6 L340.7 462.6 L341.1 462.6 L341.5 462.7 L341.9 462.7 L342.3 462.7 L342.7 462.7 L343.1 462.7 L343.5 462.7 L343.9 462.7 L344.3 462.7 L344.7 462.6 L345.1 462.6 L345.5 462.6 L345.9 462.6 L346.3 462.6 L346.7 462.6 L347.1 462.6 L347.5 462.6 L347.9 462.6 L348.3 462.6 L348.7 462.6 L349.1 462.5 L349.5 462.5 L349.9 462.5 L350.3 462.4 L350.7 462.4 L351.1 462.2 L351.5 462.0 L351.9 461.3 L352.3 460.0 L352.7 457.7 L353.1 454.7 L353.5 451.9 L353.9 450.8 L354.3 451.6 L354.7 453.1 L355.1 454.1 L355.5 454.5 L355.9 455.1 L356.3 456.5 L356.7 458.2 L357.1 459.9 L357.5 461.1 L357.9 461.8 L358.3 462.2 L358.7 462.4 L359.1 462.4 L359.5 462.5 L359.9 462.5 L360.3 462.6 L360.7 462.6 L361.1 462.6 L361.5 462.6 L361.9 462.6 L362.3 462.6 L362.7 462.6 L363.1 462.6 L363.5 462.7 L363.9 462.7 L364.3 462.7 L364.7 462.7 L365.1 462.7 L365.5 462.7 L365.9 462.7 L366.3 462.7 L366.7 462.7 L367.1 462.7 L367.5 462.7 L367.9 462.7 L368.3 462.7 L368.7 462.7 L369.1 462.7 L369.5 462.7 L369.9 462.7 L370.3 462.7 L370.7 462.7 L371.1 462.7 L371.5 462.7 L371.9 462.7 L372.3 462.7 L372.7 462.7 L373.1 462.7 L373.5 462.7 L373.9 462.7 L374.3 462.7 L374.7 462.7 L375.1 462.7 L375.5 462.7 L375.9 462.7 L376.3 462.7 L376.7 462.7 L377.1 462.7 L377.5 462.6 L377.9 462.6 L378.3 462.6 L378.7 462.6 L379.1 462.6 L379.5 462.6 L379.9 462.5 L380.3 462.4 L380.7 462.1 L381.1 461.6 L381.5 460.4 L381.9 458.8 L382.3 456.9 L382.7 455.8 L383.1 456.2 L383.5 457.8 L383.9 459.7 L384.3 461.1 L384.7 461.9 L385.1 462.3 L385.5 462.4 L385.9 462.5 L386.3 462.5 L386.7 462.6 L387.1 462.6 L387.5 462.5 L387.9 462.4 L388.3 462.2 L388.7 461.9 L389.1 461.5 L389.5 461.1 L389.9 461.0 L390.3 461.2 L390.7 461.7 L391.1 462.1 L391.5 462.4 L391.9 462.5 L392.3 462.6 L392.7 462.6 L393.1 462.6 L393.5 462.6 L393.9 462.7 L394.3 462.7 L394.7 462.7 L395.1 462.7 L395.5 462.7 L395.9 462.7 L396.3 462.7 L396.7 462.7 L397.1 462.7 L397.5 462.7 L397.9 462.7 L398.3 462.7 L398.7 462.7 L399.1 462.7 L399.5 462.7 L399.9 462.7 L400.3 462.7 L400.7 462.6 L401.1 462.6 L401.5 462.6 L401.9 462.6 L402.3 462.6 L402.7 462.6 L403.1 462.6 L403.5 462.6 L403.9 462.6 L404.3 462.6 L404.7 462.5 L405.1 462.5 L405.5 462.4 L405.9 462.1 L406.3 461.3 L406.7 459.6 L407.1 457.2 L407.5 455.4 L407.9 456.0 L408.3 458.2 L408.7 460.1 L409.1 460.8 L409.5 460.5 L409.9 459.5 L410.3 458.2 L410.7 457.3 L411.1 457.3 L411.5 458.3 L411.9 459.6 L412.3 460.8 L412.7 461.6 L413.1 462.1 L413.5 462.4 L413.9 462.5 L414.3 462.5 L414.7 462.6 L415.1 462.6 L415.5 462.6 L415.9 462.6 L416.3 462.6 L416.7 462.6 L417.1 462.6 L417.5 462.6 L417.9 462.6 L418.3 462.6 L418.7 462.6 L419.1 462.6 L419.5 462.6 L419.9 462.6 L420.3 462.6 L420.7 462.6 L421.1 462.6 L421.5 462.6 L421.9 462.6 L422.3 462.6 L422.7 462.6 L423.1 462.6 L423.5 462.6 L423.9 462.6 L424.3 462.6 L424.7 462.6 L425.1 462.6 L425.5 462.6 L425.9 462.6 L426.3 462.6 L426.7 462.6 L427.1 462.6 L427.5 462.5 L427.9 462.5 L428.3 462.4 L428.7 462.4 L429.1 462.3 L429.5 462.1 L429.9 461.9 L430.3 461.7 L430.7 461.5 L431.1 461.2 L431.5 460.9 L431.9 460.5 L432.3 460.2 L432.7 459.8 L433.1 459.5 L433.5 459.2 L433.9 459.0 L434.3 458.9 L434.7 458.9 L435.1 459.0 L435.5 459.1 L435.9 459.4 L436.3 459.7 L436.7 460.0 L437.1 460.3 L437.5 460.7 L437.9 461.0 L438.3 461.3 L438.7 461.6 L439.1 461.8 L439.5 462.0 L439.9 462.2 L440.3 462.3 L440.7 462.4 L441.1 462.5 L441.5 462.5 L441.9 462.5 L442.3 462.6 L442.7 462.6 L443.1 462.6 L443.5 462.6 L443.9 462.6 L444.3 462.6 L444.7 462.6 L445.1 462.6 L445.5 462.6 L445.9 462.6 L446.3 462.6 L446.7 462.6 L447.1 462.6 L447.5 462.6 L447.9 462.6 L448.3 462.6 L448.7 462.6 L449.1 462.6 L449.5 462.6 L449.9 462.6 L450.3 462.6 L450.7 462.6 L451.1 462.6 L451.5 462.6 L451.9 462.5 L452.3 462.5 L452.7 462.5 L453.1 462.4 L453.5 462.4 L453.9 462.2 L454.3 461.7 L454.7 460.6 L455.1 458.9 L455.5 457.0 L455.9 456.1 L456.3 456.9 L456.7 458.6 L457.1 460.0 L457.5 460.5 L457.9 460.2 L458.3 459.3 L458.7 458.3 L459.1 457.6 L459.5 457.6 L459.9 458.4 L460.3 459.5 L460.7 460.6 L461.1 461.4 L461.5 461.9 L461.9 462.2 L462.3 462.4 L462.7 462.4 L463.1 462.5 L463.5 462.5 L463.9 462.5 L464.3 462.5 L464.7 462.5 L465.1 462.5 L465.5 462.5 L465.9 462.5 L466.3 462.4 L466.7 462.3 L467.1 462.0 L467.5 461.7 L467.9 461.3 L468.3 461.3 L468.7 461.5 L469.1 461.8 L469.5 462.2 L469.9 462.4 L470.3 462.5 L470.7 462.5 L471.1 462.6 L471.5 462.6 L471.9 462.6 L472.3 462.6 L472.7 462.6 L473.1 462.6 L473.5 462.6 L473.9 462.6 L474.3 462.6 L474.7 462.6 L475.1 462.6 L475.5 462.6 L475.9 462.6 L476.3 462.6 L476.7 462.5 L477.1 462.5 L477.5 462.5 L477.9 462.5 L478.3 462.4 L478.7 462.4 L479.1 462.2 L479.5 461.8 L479.9 460.8 L480.3 459.0 L480.7 456.9 L481.1 455.5 L481.5 456.0 L481.9 457.9 L482.3 459.9 L482.7 461.2 L483.1 461.7 L483.5 461.6 L483.9 461.2 L484.3 460.4 L484.7 459.5 L485.1 458.9 L485.5 458.9 L485.9 459.6 L486.3 460.5 L486.7 461.3 L487.1 461.9 L487.5 462.2 L487.9 462.4 L488.3 462.5 L488.7 462.5 L489.1 462.5 L489.5 462.5 L489.9 462.6 L490.3 462.6 L490.7 462.6 L491.1 462.6 L491.5 462.6 L491.9 462.6 L492.3 462.6 L492.7 462.6 L493.1 462.6 L493.5 462.6 L493.9 462.6 L494.3 462.6 L494.7 462.6 L495.1 462.6 L495.5 462.6 L495.9 462.6 L496.3 462.6 L496.7 462.6 L497.1 462.6 L497.5 462.6 L497.9 462.6 L498.3 462.6 L498.7 462.6 L499.1 462.6 L499.5 462.6 L499.9 462.6 L500.3 462.6 L500.7 462.6 L501.1 462.6 L501.5 462.6 L501.9 462.6 L502.3 462.6 L502.7 462.6 L503.1 462.6 L503.5 462.6 L503.9 462.6 L504.3 462.6 L504.7 462.6 L505.1 462.6 L505.5 462.6 L505.9 462.6 L506.3 462.6 L506.7 462.6 L507.1 462.6 L507.5 462.6 L507.9 462.6 L508.3 462.6 L508.7 462.6 L509.1 462.6 L509.5 462.6 L509.9 462.6 L510.3 462.6 L510.7 462.6 L511.1 462.6 L511.5 462.6 L511.9 462.6 L512.3 462.6 L512.7 462.6 L513.1 462.6 L513.5 462.6 L513.9 462.6 L514.3 462.6 L514.7 462.6 L515.1 462.6 L515.5 462.6 L515.9 462.6 L516.3 462.6 L516.7 462.6 L517.1 462.6 L517.5 462.6 L517.9 462.6 L518.3 462.6 L518.7 462.6 L519.1 462.6 L519.5 462.6 L519.9 462.6 L520.3 462.6 L520.7 462.6 L521.1 462.6 L521.5 462.6 L521.9 462.6 L522.3 462.6 L522.7 462.6 L523.1 462.6 L523.5 462.6 L523.9 462.6 L524.3 462.6 L524.7 462.6 L525.1 462.6 L525.5 462.6 L525.9 462.6 L526.3 462.6 L526.7 462.6 L527.1 462.6 L527.5 462.6 L527.9 462.6 L528.3 462.6 L528.7 462.6 L529.1 462.6 L529.5 462.6 L529.9 462.6" fill="none" stroke="#2a2a2a" stroke-width="1" stroke-linejoin="round"/>
<g stroke="#111" stroke-linecap="butt">
<line x1="58.4" y1="36.0" x2="58.4" y2="479.8" stroke="#888" stroke-width="0.9"/>
<line x1="530.3" y1="35.1" x2="530.3" y2="480.7" stroke-width="1.8"/>
<line x1="57.9" y1="36.0" x2="531.2" y2="36.0" stroke-width="1.8"/>
<line x1="57.9" y1="146.8" x2="531.2" y2="146.8" stroke-width="1.8"/>
<line x1="57.9" y1="257.8" x2="531.2" y2="257.8" stroke-width="1.8"/>
<line x1="57.9" y1="368.9" x2="531.2" y2="368.9" stroke-width="1.8"/>
<line x1="57.9" y1="479.8" x2="531.2" y2="479.8" stroke-width="1.8"/>
<path d="M76.8 36.0v4.0M76.8 146.8v-3.6M76.8 257.8v-3.6M76.8 368.9v-3.6M76.8 479.8v-3.6M96.5 36.0v7.5M96.5 146.8v-7.8M96.5 257.8v-7.8M96.5 368.9v-7.8M96.5 479.8v-7.8M116.2 36.0v4.0M116.2 146.8v-3.6M116.2 257.8v-3.6M116.2 368.9v-3.6M116.2 479.8v-3.6M135.9 36.0v7.5M135.9 146.8v-7.8M135.9 257.8v-7.8M135.9 368.9v-7.8M135.9 479.8v-7.8M155.6 36.0v4.0M155.6 146.8v-3.6M155.6 257.8v-3.6M155.6 368.9v-3.6M155.6 479.8v-3.6M175.3 36.0v7.5M175.3 146.8v-7.8M175.3 257.8v-7.8M175.3 368.9v-7.8M175.3 479.8v-7.8M195.0 36.0v4.0M195.0 146.8v-3.6M195.0 257.8v-3.6M195.0 368.9v-3.6M195.0 479.8v-3.6M214.7 36.0v7.5M214.7 146.8v-7.8M214.7 257.8v-7.8M214.7 368.9v-7.8M214.7 479.8v-7.8M234.4 36.0v4.0M234.4 146.8v-3.6M234.4 257.8v-3.6M234.4 368.9v-3.6M234.4 479.8v-3.6M254.1 36.0v7.5M254.1 146.8v-7.8M254.1 257.8v-7.8M254.1 368.9v-7.8M254.1 479.8v-7.8M273.8 36.0v4.0M273.8 146.8v-3.6M273.8 257.8v-3.6M273.8 368.9v-3.6M273.8 479.8v-3.6M293.5 36.0v7.5M293.5 146.8v-7.8M293.5 257.8v-7.8M293.5 368.9v-7.8M293.5 479.8v-7.8M313.2 36.0v4.0M313.2 146.8v-3.6M313.2 257.8v-3.6M313.2 368.9v-3.6M313.2 479.8v-3.6M332.9 36.0v7.5M332.9 146.8v-7.8M332.9 257.8v-7.8M332.9 368.9v-7.8M332.9 479.8v-7.8M352.6 36.0v4.0M352.6 146.8v-3.6M352.6 257.8v-3.6M352.6 368.9v-3.6M352.6 479.8v-3.6M372.3 36.0v7.5M372.3 146.8v-7.8M372.3 257.8v-7.8M372.3 368.9v-7.8M372.3 479.8v-7.8M392.0 36.0v4.0M392.0 146.8v-3.6M392.0 257.8v-3.6M392.0 368.9v-3.6M392.0 479.8v-3.6M411.7 36.0v7.5M411.7 146.8v-7.8M411.7 257.8v-7.8M411.7 368.9v-7.8M411.7 479.8v-7.8M431.4 36.0v4.0M431.4 146.8v-3.6M431.4 257.8v-3.6M431.4 368.9v-3.6M431.4 479.8v-3.6M451.1 36.0v7.5M451.1 146.8v-7.8M451.1 257.8v-7.8M451.1 368.9v-7.8M451.1 479.8v-7.8M470.8 36.0v4.0M470.8 146.8v-3.6M470.8 257.8v-3.6M470.8 368.9v-3.6M470.8 479.8v-3.6M490.5 36.0v7.5M490.5 146.8v-7.8M490.5 257.8v-7.8M490.5 368.9v-7.8M490.5 479.8v-7.8M510.2 36.0v4.0M510.2 146.8v-3.6M510.2 257.8v-3.6M510.2 368.9v-3.6M510.2 479.8v-3.6M58.4 44.9h7.5M530.3 44.9h-9.0M58.4 66.1h3.8M530.3 66.1h-4.3M58.4 87.3h7.5M530.3 87.3h-9.0M58.4 108.5h3.8M530.3 108.5h-4.3M58.4 129.7h7.5M530.3 129.7h-9.0M58.4 155.7h7.5M530.3 155.7h-9.0M58.4 176.9h3.8M530.3 176.9h-4.3M58.4 198.1h7.5M530.3 198.1h-9.0M58.4 219.3h3.8M530.3 219.3h-4.3M58.4 240.5h7.5M530.3 240.5h-9.0M58.4 266.7h7.5M530.3 266.7h-9.0M58.4 287.9h3.8M530.3 287.9h-4.3M58.4 309.1h7.5M530.3 309.1h-9.0M58.4 330.3h3.8M530.3 330.3h-4.3M58.4 351.5h7.5M530.3 351.5h-9.0M58.4 377.8h7.5M530.3 377.8h-9.0M58.4 399.0h3.8M530.3 399.0h-4.3M58.4 420.2h7.5M530.3 420.2h-9.0M58.4 441.4h3.8M530.3 441.4h-4.3M58.4 462.6h7.5M530.3 462.6h-9.0" fill="none" stroke-width="1.6"/>
</g>
<g fill="#000">
<circle cx="113.9" cy="53.0" r="3.5"/>
<circle cx="175.0" cy="67.7" r="3.5"/>
<circle cx="187.7" cy="100.8" r="3.5"/>
<circle cx="221.3" cy="53.7" r="3.5"/>
<circle cx="256.4" cy="47.8" r="3.5"/>
<circle cx="323.7" cy="92.1" r="3.5"/>
<circle cx="353.6" cy="111.6" r="3.5"/>
<circle cx="383.3" cy="112.9" r="3.5"/>
<circle cx="407.0" cy="114.5" r="3.5"/>
<circle cx="433.9" cy="118.9" r="3.5"/>
<circle cx="456.5" cy="116.4" r="3.5"/>
<circle cx="483.2" cy="117.1" r="3.5"/>
<circle cx="115.7" cy="208.4" r="3.5"/>
<circle cx="175.3" cy="182.4" r="3.5"/>
<circle cx="186.0" cy="197.8" r="3.5"/>
<circle cx="220.9" cy="156.1" r="3.5"/>
<circle cx="258.1" cy="215.7" r="3.5"/>
<circle cx="325.5" cy="182.4" r="3.5"/>
<circle cx="354.2" cy="218.0" r="3.5"/>
<circle cx="383.6" cy="219.4" r="3.5"/>
<circle cx="407.2" cy="221.2" r="3.5"/>
<circle cx="433.8" cy="225.1" r="3.5"/>
<circle cx="456.7" cy="223.3" r="3.5"/>
<circle cx="483.3" cy="224.0" r="3.5"/>
<circle cx="118.8" cy="318.2" r="3.5"/>
<circle cx="178.2" cy="290.3" r="3.5"/>
<circle cx="191.2" cy="308.0" r="3.5"/>
<circle cx="221.7" cy="263.5" r="3.5"/>
<circle cx="263.3" cy="324.4" r="3.5"/>
<circle cx="326.3" cy="291.6" r="3.5"/>
<circle cx="357.3" cy="322.3" r="3.5"/>
<circle cx="385.9" cy="329.4" r="3.5"/>
<circle cx="411.5" cy="330.0" r="3.5"/>
<circle cx="435.9" cy="333.3" r="3.5"/>
<circle cx="460.4" cy="327.3" r="3.5"/>
<circle cx="487.2" cy="328.1" r="3.5"/>
<path d="M205.0 200.3L208.9 210.9L201.1 210.9Z"/>
<path d="M215.7 209.7L219.6 220.3L211.8 220.3Z"/>
<path d="M248.5 215.9L252.4 226.5L244.6 226.5Z"/>
<path d="M208.9 288.6L212.8 299.2L205.0 299.2Z"/>
<path d="M217.9 313.3L221.8 323.9L214.0 323.9Z"/>
<path d="M250.3 325.9L254.2 336.5L246.4 336.5Z"/>
<path d="M298.7 323.5L302.6 334.1L294.8 334.1Z"/>
<circle cx="414.5" cy="60.6" r="4.5"/>
<circle cx="397.1" cy="158.7" r="4.4"/>
<circle cx="398.4" cy="267.7" r="4.4"/>
<path d="M397.0 170.8L401.3 181.6L392.7 181.6Z"/>
<path d="M398.3 279.5L402.6 290.3L394.0 290.3Z"/>
</g>
<g font-family="Liberation Sans, Arial, sans-serif" fill="#000">
<text x="57.7" y="22.8" font-size="16.6" stroke="#000" stroke-width="0.35" text-anchor="middle" textLength="20.6" lengthAdjust="spacingAndGlyphs">10</text>
<text x="57.7" y="502.6" font-size="16.6" stroke="#000" stroke-width="0.35" text-anchor="middle" textLength="20.6" lengthAdjust="spacingAndGlyphs">10</text>
<text x="97.1" y="22.8" font-size="16.6" stroke="#000" stroke-width="0.35" text-anchor="middle" textLength="20.6" lengthAdjust="spacingAndGlyphs">15</text>
<text x="97.1" y="502.6" font-size="16.6" stroke="#000" stroke-width="0.35" text-anchor="middle" textLength="20.6" lengthAdjust="spacingAndGlyphs">15</text>
<text x="136.5" y="22.8" font-size="16.6" stroke="#000" stroke-width="0.35" text-anchor="middle" textLength="20.6" lengthAdjust="spacingAndGlyphs">20</text>
<text x="136.5" y="502.6" font-size="16.6" stroke="#000" stroke-width="0.35" text-anchor="middle" textLength="20.6" lengthAdjust="spacingAndGlyphs">20</text>
<text x="175.9" y="22.8" font-size="16.6" stroke="#000" stroke-width="0.35" text-anchor="middle" textLength="20.6" lengthAdjust="spacingAndGlyphs">25</text>
<text x="175.9" y="502.6" font-size="16.6" stroke="#000" stroke-width="0.35" text-anchor="middle" textLength="20.6" lengthAdjust="spacingAndGlyphs">25</text>
<text x="215.3" y="22.8" font-size="16.6" stroke="#000" stroke-width="0.35" text-anchor="middle" textLength="20.6" lengthAdjust="spacingAndGlyphs">30</text>
<text x="215.3" y="502.6" font-size="16.6" stroke="#000" stroke-width="0.35" text-anchor="middle" textLength="20.6" lengthAdjust="spacingAndGlyphs">30</text>
<text x="254.7" y="22.8" font-size="16.6" stroke="#000" stroke-width="0.35" text-anchor="middle" textLength="20.6" lengthAdjust="spacingAndGlyphs">35</text>
<text x="254.7" y="502.6" font-size="16.6" stroke="#000" stroke-width="0.35" text-anchor="middle" textLength="20.6" lengthAdjust="spacingAndGlyphs">35</text>
<text x="294.1" y="22.8" font-size="16.6" stroke="#000" stroke-width="0.35" text-anchor="middle" textLength="20.6" lengthAdjust="spacingAndGlyphs">40</text>
<text x="294.1" y="502.6" font-size="16.6" stroke="#000" stroke-width="0.35" text-anchor="middle" textLength="20.6" lengthAdjust="spacingAndGlyphs">40</text>
<text x="333.5" y="22.8" font-size="16.6" stroke="#000" stroke-width="0.35" text-anchor="middle" textLength="20.6" lengthAdjust="spacingAndGlyphs">45</text>
<text x="333.5" y="502.6" font-size="16.6" stroke="#000" stroke-width="0.35" text-anchor="middle" textLength="20.6" lengthAdjust="spacingAndGlyphs">45</text>
<text x="372.9" y="22.8" font-size="16.6" stroke="#000" stroke-width="0.35" text-anchor="middle" textLength="20.6" lengthAdjust="spacingAndGlyphs">50</text>
<text x="372.9" y="502.6" font-size="16.6" stroke="#000" stroke-width="0.35" text-anchor="middle" textLength="20.6" lengthAdjust="spacingAndGlyphs">50</text>
<text x="412.3" y="22.8" font-size="16.6" stroke="#000" stroke-width="0.35" text-anchor="middle" textLength="20.6" lengthAdjust="spacingAndGlyphs">55</text>
<text x="412.3" y="502.6" font-size="16.6" stroke="#000" stroke-width="0.35" text-anchor="middle" textLength="20.6" lengthAdjust="spacingAndGlyphs">55</text>
<text x="451.7" y="22.8" font-size="16.6" stroke="#000" stroke-width="0.35" text-anchor="middle" textLength="20.6" lengthAdjust="spacingAndGlyphs">60</text>
<text x="451.7" y="502.6" font-size="16.6" stroke="#000" stroke-width="0.35" text-anchor="middle" textLength="20.6" lengthAdjust="spacingAndGlyphs">60</text>
<text x="491.1" y="22.8" font-size="16.6" stroke="#000" stroke-width="0.35" text-anchor="middle" textLength="20.6" lengthAdjust="spacingAndGlyphs">65</text>
<text x="491.1" y="502.6" font-size="16.6" stroke="#000" stroke-width="0.35" text-anchor="middle" textLength="20.6" lengthAdjust="spacingAndGlyphs">65</text>
<text x="530.5" y="22.8" font-size="16.6" stroke="#000" stroke-width="0.35" text-anchor="middle" textLength="20.6" lengthAdjust="spacingAndGlyphs">70</text>
<text x="530.5" y="502.6" font-size="16.6" stroke="#000" stroke-width="0.35" text-anchor="middle" textLength="20.6" lengthAdjust="spacingAndGlyphs">70</text>
<text x="293.2" y="528.0" font-size="21" stroke="#000" stroke-width="0.4" text-anchor="middle" textLength="138" lengthAdjust="spacingAndGlyphs">2Theta (deg)</text>
<g transform="translate(22.6,366.6) rotate(-90)" font-size="18">
<text x="0" y="0" textLength="73.2" lengthAdjust="spacingAndGlyphs">Intensity</text>
<text x="79.7" y="0" textLength="94.6" lengthAdjust="spacingAndGlyphs">(normalized</text>
<text x="178.6" y="0" textLength="41.3" lengthAdjust="spacingAndGlyphs">unit)</text>
</g>
<g font-weight="bold">
<text x="62.8" y="62.6" font-size="16.2" textLength="35.4" lengthAdjust="spacingAndGlyphs">HJ14</text>
<text x="62.8" y="173.4" font-size="16.2" textLength="28.9" lengthAdjust="spacingAndGlyphs">NS4</text>
<text x="62.8" y="284.4" font-size="16.2" textLength="33.6" lengthAdjust="spacingAndGlyphs">NS9I</text>
<text x="77.1" y="396" font-size="14.6" textLength="42" lengthAdjust="spacingAndGlyphs">SrSiO<tspan font-size="10.4" dy="3.7">3</tspan></text>
<text x="77.4" y="413.6" font-size="12.9" textLength="54.5" lengthAdjust="spacingAndGlyphs">077-0233</text>
</g>
<text x="422.9" y="65.5" font-size="10.5" textLength="83.6" lengthAdjust="spacingAndGlyphs">SrSiO<tspan font-size="7" dy="2.4">3</tspan><tspan dy="-2.4">, 077-0233</tspan></text>
<text x="405.7" y="162.0" font-size="10.5" textLength="83.6" lengthAdjust="spacingAndGlyphs">SrSiO<tspan font-size="7" dy="2.4">3</tspan><tspan dy="-2.4">, 077-0233</tspan></text>
<text x="403.9" y="181.7" font-size="10.5" textLength="109.8" lengthAdjust="spacingAndGlyphs">(Ca, Sr)SiO<tspan font-size="7" dy="2.4">3</tspan><tspan dy="-2.4">, 015-0314</tspan></text>
<text x="405.8" y="272.1" font-size="10.5" textLength="83.6" lengthAdjust="spacingAndGlyphs">SrSiO<tspan font-size="7" dy="2.4">3</tspan><tspan dy="-2.4">, 077-0233</tspan></text>
<text x="405.2" y="289.8" font-size="10.5" textLength="109.8" lengthAdjust="spacingAndGlyphs">(Ca, Sr)SiO<tspan font-size="7" dy="2.4">3</tspan><tspan dy="-2.4">, 015-0314</tspan></text>
</g>
</svg>
</body></html>
